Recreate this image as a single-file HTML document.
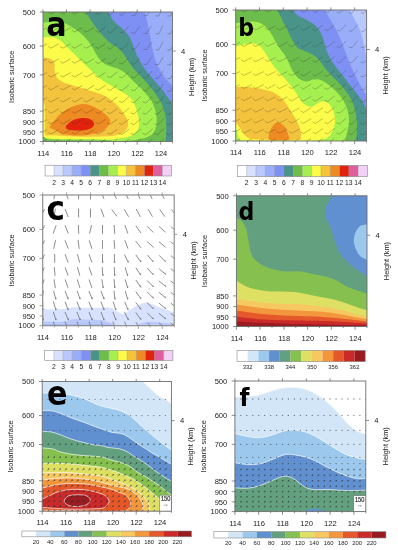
<!DOCTYPE html>
<html><head><meta charset="utf-8"><title>Figure</title>
<style>
html,body{margin:0;padding:0;background:#fff;}
svg{display:block}
.t{font-family:"Liberation Sans",sans-serif;font-size:7.6px;fill:#1c1c1c}
.s{font-family:"Liberation Sans",sans-serif;font-size:7.4px;fill:#1c1c1c}
.c{font-family:"Liberation Sans",sans-serif;font-size:6.7px;fill:#1c1c1c}
.c2{font-family:"Liberation Sans",sans-serif;font-size:5.9px;fill:#1c1c1c}
.lab{font-family:"DejaVu Sans Condensed","DejaVu Sans","Liberation Sans",sans-serif;font-weight:bold;fill:#000}
</style></head><body>
<svg width="398" height="550" viewBox="0 0 398 550">
<rect width="398" height="550" fill="#fff"/>
<defs><filter id="bl" x="-5%" y="-5%" width="110%" height="110%"><feGaussianBlur stdDeviation="0.38"/></filter></defs>
<clipPath id="cpa"><rect x="43.0" y="12.0" width="129.5" height="129.5"/></clipPath>
<g clip-path="url(#cpa)"><g filter="url(#bl)">
<rect x="40.0" y="9.0" width="135.5" height="135.5" fill="#9aadf9"/>
<path d="M144.3,10.0C144.8,11.8 146.1,17.0 147.0,20.8C147.9,24.6 148.7,28.6 149.6,33.0C150.5,37.4 151.2,42.5 152.2,47.2C153.2,51.9 154.3,57.1 155.8,61.2C157.3,65.3 159.3,68.8 161.0,71.8C162.7,74.8 163.8,76.5 166.0,79.0C168.2,81.5 172.7,85.7 174.0,87.0L174.5,143.5L41.0,143.5L41.0,10.0Z" fill="#7e90f4"/>
<path d="M107.5,10.0C108.5,11.8 111.1,17.7 113.6,20.8C116.1,23.9 119.7,26.1 122.3,28.7C124.9,31.3 127.5,33.5 129.4,36.6C131.3,39.7 132.3,43.7 133.8,47.2C135.3,50.7 136.4,54.2 138.2,57.7C139.9,61.2 142.3,65.3 144.3,68.3C146.3,71.3 148.0,73.1 150.0,75.5C152.0,77.9 154.2,80.0 156.3,82.5C158.4,85.0 160.7,87.8 162.8,90.5C164.9,93.2 167.1,96.4 169.0,99.0C170.9,101.6 173.2,104.8 174.0,106.0L174.5,143.5L41.0,143.5L41.0,10.0Z" fill="#4a938a"/>
<path d="M84.5,10.0C85.5,11.6 88.5,16.5 90.5,19.5C92.5,22.5 94.5,25.4 96.2,27.8C98.0,30.2 99.5,32.3 101.0,34.0C102.5,35.7 103.4,36.5 105.0,38.0C106.6,39.5 108.3,41.6 110.6,43.3C112.8,45.0 116.2,46.5 118.5,48.4C120.8,50.3 122.4,52.2 124.2,54.6C126.0,57.0 127.4,60.1 129.4,63.0C131.4,65.9 134.1,69.2 136.4,71.8C138.7,74.4 140.7,76.0 143.0,78.5C145.3,81.0 147.8,83.8 150.0,86.5C152.2,89.2 154.2,91.8 156.0,94.5C157.8,97.2 159.6,99.5 161.0,102.5C162.4,105.5 163.7,108.8 164.6,112.5C165.5,116.2 166.1,119.7 166.3,124.8C166.5,129.9 165.9,140.0 165.8,143.0L41.0,143.5L41.0,10.0Z" fill="#6cbd4b"/>
<path d="M41.0,22.6C43.1,22.5 49.8,21.9 53.6,22.0C57.4,22.1 60.9,22.1 64.0,23.0C67.1,23.9 69.9,25.9 72.4,27.4C74.9,28.9 77.1,30.3 79.2,32.0C81.3,33.7 83.4,35.7 85.0,37.4C86.6,39.1 87.8,40.7 89.0,42.3C90.2,43.9 91.2,45.3 92.2,47.0C93.2,48.7 94.2,50.8 95.2,52.5C96.2,54.2 97.0,55.9 98.2,57.5C99.4,59.1 100.6,60.7 102.2,62.0C103.8,63.3 106.0,64.6 108.0,65.5C110.0,66.4 112.1,66.9 114.0,67.6C115.9,68.2 117.8,68.6 119.5,69.4C121.2,70.2 122.6,71.1 124.2,72.3C125.8,73.5 127.3,75.1 129.0,76.8C130.7,78.5 132.5,80.4 134.5,82.3C136.5,84.2 138.8,86.1 141.0,88.3C143.2,90.5 145.6,93.0 147.5,95.5C149.4,98.0 151.2,100.2 152.6,103.0C154.0,105.8 155.1,109.2 155.8,112.5C156.5,115.8 156.9,119.8 156.6,123.0C156.3,126.2 155.6,129.4 154.0,131.8C152.4,134.2 151.1,135.8 147.0,137.2C142.9,138.6 136.7,139.8 129.4,140.4C122.1,141.0 117.7,140.9 103.0,141.0C88.3,141.1 51.3,141.2 41.0,141.2Z" fill="#a5ef50"/>
<path d="M41.0,37.5C42.5,37.4 47.2,36.8 49.8,36.9C52.4,37.0 54.5,37.5 56.6,38.4C58.7,39.2 60.5,40.6 62.2,42.0C63.9,43.4 65.2,45.5 66.7,47.0C68.2,48.5 70.0,49.7 71.5,51.2C73.0,52.7 74.5,54.2 76.0,55.8C77.5,57.3 78.8,58.9 80.5,60.5C82.2,62.1 83.9,63.5 86.0,65.5C88.1,67.5 90.5,70.0 93.0,72.3C95.5,74.6 98.2,77.2 101.0,79.3C103.8,81.4 106.8,83.1 109.5,84.8C112.2,86.5 114.8,87.8 117.4,89.3C120.0,90.8 123.0,92.5 125.3,94.0C127.6,95.5 129.4,96.7 131.0,98.5C132.6,100.3 133.6,102.1 134.8,105.0C136.0,107.9 137.5,112.7 138.2,116.0C138.9,119.3 139.3,122.2 139.0,124.8C138.7,127.4 138.0,129.9 136.4,131.8C134.8,133.7 132.6,135.2 129.4,136.4C126.2,137.6 121.4,138.1 117.0,138.7C112.6,139.2 115.7,139.5 103.0,139.7C90.3,139.9 51.3,139.8 41.0,139.8Z" fill="#fdfb48"/>
<path d="M41.0,57.6C42.5,57.8 47.6,57.8 49.8,58.6C52.0,59.4 53.5,60.6 54.3,62.5C55.1,64.4 54.2,67.6 54.6,70.0C55.0,72.4 55.5,74.9 56.8,76.9C58.1,78.9 60.0,80.5 62.2,81.8C64.4,83.1 67.3,83.9 70.1,84.8C72.9,85.7 76.2,86.3 79.2,87.2C82.2,88.1 85.4,89.2 88.0,90.0C90.6,90.8 92.3,91.4 95.0,92.3C97.7,93.2 101.2,94.1 104.0,95.4C106.8,96.7 109.2,98.5 111.5,100.3C113.8,102.1 116.0,103.9 118.0,106.0C120.0,108.1 122.0,110.7 123.5,113.0C125.0,115.3 126.5,117.9 127.3,120.0C128.1,122.1 128.4,123.7 128.0,125.5C127.6,127.3 126.7,129.5 125.0,131.0C123.3,132.5 121.3,133.8 118.0,134.7C114.7,135.6 111.3,136.2 105.0,136.6C98.7,136.9 87.5,136.9 80.0,136.8C72.5,136.7 65.0,136.1 60.0,135.8C55.0,135.6 53.2,135.2 50.0,135.3C46.8,135.4 42.5,136.3 41.0,136.5Z" fill="#f4c33c"/>
<path d="M41,100L44.6,104L45,120L44.8,134L47,137L41,137Z" fill="#fdfb48"/>
<path d="M50.0,126.8C50.5,124.8 54.4,120.5 57.0,117.7C59.6,114.9 62.4,112.0 65.9,109.8C69.4,107.6 74.4,105.5 78.2,104.7C82.0,103.9 85.2,103.9 88.7,104.7C92.2,105.5 96.6,108.2 99.3,109.8C102.0,111.3 103.4,112.6 105.0,114.0C106.6,115.4 108.1,116.8 109.0,118.0C109.9,119.2 110.4,120.0 110.3,121.3C110.2,122.5 109.4,124.2 108.5,125.5C107.6,126.8 106.5,127.8 105.0,129.0C103.5,130.2 102.1,131.6 99.3,132.6C96.5,133.6 91.3,134.4 88.0,134.9C84.7,135.4 82.2,135.4 79.2,135.4C76.2,135.4 73.0,135.3 70.0,134.9C67.0,134.5 63.6,134.0 61.0,133.2C58.4,132.3 56.1,130.9 54.3,129.8C52.5,128.7 49.5,128.8 50.0,126.8Z" fill="#ee8a24"/>
<path d="M65.9,126.5C66.5,125.2 68.8,122.6 71.1,121.2C73.4,119.8 77.1,118.6 80.0,118.2C82.9,117.8 86.4,117.8 88.7,118.6C91.0,119.4 93.4,121.5 94.0,123.0C94.6,124.5 93.7,126.2 92.2,127.4C90.7,128.6 88.1,129.5 85.2,130.0C82.3,130.5 77.6,130.5 74.7,130.4C71.8,130.3 69.1,129.8 67.6,129.2C66.1,128.5 65.3,127.8 65.9,126.5Z" fill="#e1220f"/>
<path d="M41,135.5L44,137L47,138.8L60,139.3L100,139.8L112,140.5L112,143L41,143Z" fill="#6cbd4b"/>
<path d="M44.5,137.4L47,139L60,139.5L100,140" fill="none" stroke="#a5ef50" stroke-width="0.7"/>
<path d="M36.8,12.6L39.3,14.1L46.7,9.9M36.8,30.4L39.3,32.0L46.7,27.7M36.8,46.7L39.3,48.2L46.7,43.9M36.8,61.6L39.3,63.2L46.7,58.9M36.8,75.5L39.3,77.0L46.7,72.7M36.8,88.4L39.3,89.9L46.7,85.6M36.8,100.4L39.3,102.0L46.7,97.7M36.8,111.7L39.3,113.3L46.7,109.0M36.8,122.4L39.3,124.0L46.7,119.7M36.8,132.5L39.3,134.1L46.7,129.8M36.8,142.1L39.3,143.7L46.7,139.3M48.6,12.6L51.0,14.1L58.5,9.9M48.6,30.4L51.0,32.0L58.5,27.7M48.6,46.7L51.0,48.2L58.5,43.9M48.6,61.6L51.0,63.2L58.5,58.9M48.6,75.5L51.0,77.0L58.5,72.7M48.6,88.4L51.0,89.9L58.5,85.6M48.6,100.4L51.0,102.0L58.5,97.7M48.6,111.7L51.0,113.3L58.5,109.0M48.6,122.4L51.0,124.0L58.5,119.7M48.6,132.5L51.0,134.1L58.5,129.8M48.6,142.1L51.0,143.7L58.5,139.3M60.4,12.6L62.8,14.1L70.3,9.9M60.4,30.4L62.8,32.0L70.3,27.7M60.4,46.7L62.8,48.2L70.3,43.9M60.4,61.6L62.8,63.2L70.3,58.9M60.4,75.5L62.8,77.0L70.3,72.7M60.4,88.4L62.8,89.9L70.3,85.6M60.4,100.4L62.8,102.0L70.3,97.7M60.4,111.7L62.8,113.3L70.3,109.0M60.4,122.4L62.8,124.0L70.3,119.7M60.4,132.5L62.8,134.1L70.3,129.8M60.4,142.1L62.8,143.7L70.3,139.3M72.1,12.6L74.6,14.1L82.0,9.9M72.1,30.4L74.6,32.0L82.0,27.7M72.1,46.7L74.6,48.2L82.0,43.9M72.1,61.6L74.6,63.2L82.0,58.9M72.1,75.5L74.6,77.0L82.0,72.7M72.1,88.4L74.6,89.9L82.0,85.6M72.1,100.4L74.6,102.0L82.0,97.7M72.1,111.7L74.6,113.3L82.0,109.0M72.1,122.4L74.6,124.0L82.0,119.7M72.1,132.5L74.6,134.1L82.0,129.8M72.1,142.1L74.6,143.7L82.0,139.3M83.9,12.6L86.4,14.1L93.8,9.9M83.9,30.4L86.4,32.0L93.8,27.7M83.9,46.7L86.4,48.2L93.8,43.9M83.9,61.6L86.4,63.2L93.8,58.9M83.9,75.5L86.4,77.0L93.8,72.7M83.9,88.4L86.4,89.9L93.8,85.6M83.9,100.4L86.4,102.0L93.8,97.7M83.9,111.7L86.4,113.3L93.8,109.0M83.9,122.4L86.4,124.0L93.8,119.7M83.9,132.5L86.4,134.1L93.8,129.8M83.9,142.1L86.4,143.7L93.8,139.3M95.8,13.3L98.4,14.5L105.3,9.5M95.8,31.0L98.4,32.3L105.4,27.3M95.8,47.2L98.4,48.5L105.4,43.6M95.8,62.1L98.3,63.5L105.4,58.6M95.7,75.9L98.3,77.3L105.4,72.4M95.7,88.8L98.3,90.1L105.4,85.4M95.7,100.8L98.3,102.2L105.5,97.4M95.7,112.1L98.3,113.5L105.5,108.8M95.7,122.7L98.2,124.1L105.5,119.5M95.7,132.7L98.2,134.2L105.5,129.6M95.7,142.3L98.2,143.7L105.5,139.3M107.7,13.9L110.5,14.9L116.8,9.1M107.7,31.6L110.4,32.7L116.9,27.0M107.7,47.8L110.4,48.9L116.9,43.3M107.6,62.7L110.3,63.8L117.0,58.3M107.6,76.4L110.3,77.5L117.0,72.2M107.6,89.2L110.2,90.4L117.0,85.1M107.6,101.1L110.2,102.4L117.1,97.2M107.5,112.4L110.1,113.7L117.1,108.6M107.5,123.0L110.1,124.3L117.2,119.4M107.5,133.0L110.1,134.3L117.2,129.5M107.5,142.4L110.0,143.8L117.2,139.2M119.7,14.6L122.6,15.2L128.3,8.8M119.7,32.2L122.5,33.0L128.3,26.7M119.6,48.3L122.4,49.1L128.4,43.0M119.6,63.1L122.3,64.0L128.5,58.0M119.5,76.8L122.3,77.8L128.6,71.9M119.5,89.6L122.2,90.6L128.6,84.9M119.4,101.5L122.1,102.6L128.7,97.0M119.4,112.7L122.1,113.8L128.8,108.4M119.4,123.2L122.0,124.4L128.8,119.2M119.3,133.2L121.9,134.4L128.9,129.4M119.3,142.6L121.9,143.9L129.0,139.1M131.8,15.2L134.7,15.5L139.7,8.5M131.7,32.8L134.6,33.2L139.8,26.4M131.6,48.9L134.5,49.4L139.9,42.7M131.5,63.6L134.4,64.3L140.0,57.8M131.5,77.3L134.3,78.0L140.1,71.7M131.4,90.0L134.2,90.8L140.2,84.7M131.3,101.9L134.1,102.8L140.3,96.8M131.2,113.0L134.0,114.0L140.4,108.3M131.2,123.5L133.9,124.6L140.5,119.1M131.1,133.4L133.8,134.6L140.6,129.3M131.1,142.8L133.7,144.0L140.7,139.0M144.0,15.7L146.9,15.8L151.0,8.2M143.8,33.3L146.7,33.5L151.2,26.1M143.7,49.4L146.6,49.6L151.3,42.5M143.6,64.1L146.4,64.5L151.5,57.5M143.4,77.7L146.3,78.2L151.6,71.5M143.3,90.4L146.1,91.0L151.8,84.5M143.2,102.2L146.0,103.0L151.9,96.7M143.1,113.3L145.9,114.2L152.0,108.1M143.0,123.7L145.8,124.7L152.1,118.9M143.0,133.6L145.7,134.7L152.3,129.2M142.9,142.9L145.5,144.1L152.4,138.9M155.9,16.0L158.8,15.9L162.6,8.1M155.9,33.8L158.8,33.7L162.6,25.9M155.8,49.8L158.7,49.8L162.8,42.3M155.6,64.5L158.5,64.7L163.0,57.3M155.4,78.1L158.3,78.4L163.1,71.3M155.3,90.7L158.1,91.2L163.3,84.3M155.1,102.5L158.0,103.1L163.5,96.5M155.0,113.6L157.8,114.3L163.6,108.0M154.9,124.0L157.7,124.8L163.8,118.8M154.8,133.8L157.5,134.8L163.9,129.0M154.7,143.1L157.4,144.2L164.1,138.8M167.7,16.0L170.6,15.9L174.4,8.1M167.7,33.8L170.6,33.7L174.4,25.9M167.7,50.0L170.6,49.9L174.4,42.2M167.7,64.9L170.6,64.9L174.4,57.2M167.5,78.5L170.4,78.6L174.6,71.1M167.3,91.1L170.2,91.4L174.8,84.1M167.1,102.9L170.0,103.3L175.0,96.3M166.9,113.9L169.8,114.4L175.2,107.8M166.8,124.2L169.6,125.0L175.4,118.7M166.6,134.0L169.4,134.9L175.6,128.9M166.5,143.2L169.2,144.3L175.8,138.7" stroke="#3a3a20" stroke-width="0.9" fill="none" opacity="0.36" stroke-linejoin="round" stroke-linecap="round"/>
</g></g>
<rect x="43.0" y="12.0" width="129.5" height="129.5" fill="none" stroke="#6e6e6e" stroke-width="0.9"/>
<text x="35.4" y="14.8" text-anchor="end" class="t">500</text>
<text x="35.4" y="48.8" text-anchor="end" class="t">600</text>
<text x="35.4" y="77.6" text-anchor="end" class="t">700</text>
<text x="35.4" y="113.9" text-anchor="end" class="t">850</text>
<text x="35.4" y="124.6" text-anchor="end" class="t">900</text>
<text x="35.4" y="134.7" text-anchor="end" class="t">950</text>
<text x="35.4" y="144.2" text-anchor="end" class="t">1000</text>
<text x="43.3" y="155.7" text-anchor="middle" class="t">114</text>
<text x="66.8" y="155.7" text-anchor="middle" class="t">116</text>
<text x="90.4" y="155.7" text-anchor="middle" class="t">118</text>
<text x="113.9" y="155.7" text-anchor="middle" class="t">120</text>
<text x="137.5" y="155.7" text-anchor="middle" class="t">122</text>
<text x="161.0" y="155.7" text-anchor="middle" class="t">124</text>
<path d="M43.0,12.0h-3.2M43.0,46.1h-3.2M43.0,74.9h-3.2M43.0,111.1h-3.2M43.0,121.8h-3.2M43.0,131.9h-3.2M43.0,141.5h-3.2M43.0,141.5v3.2M43.0,12.0v-2.6M66.5,141.5v3.2M66.5,12.0v-2.6M90.1,141.5v3.2M90.1,12.0v-2.6M113.6,141.5v3.2M113.6,12.0v-2.6M137.2,141.5v3.2M137.2,12.0v-2.6M160.7,141.5v3.2M160.7,12.0v-2.6M54.8,141.5v1.6M78.3,141.5v1.6M101.9,141.5v1.6M125.4,141.5v1.6M149.0,141.5v1.6M172.5,141.5v1.6M172.5,51.0h3.2" stroke="#6e6e6e" stroke-width="0.8" fill="none"/>
<text x="183.1" y="53.8" text-anchor="middle" class="t">4</text>
<text transform="translate(13.8,76.8) rotate(-90)" text-anchor="middle" class="s">Isobaric surface</text>
<text transform="translate(194.3,76.8) rotate(-90)" text-anchor="middle" class="s">Height (km)</text>
<text x="46.3" y="35.8" class="lab" font-size="33.5">a</text>
<rect x="45.10" y="165.2" width="9.08" height="10.8" fill="#ffffff"/>
<rect x="54.13" y="165.2" width="9.08" height="10.8" fill="#d8e2ff"/>
<rect x="63.16" y="165.2" width="9.08" height="10.8" fill="#b9c9fb"/>
<rect x="72.19" y="165.2" width="9.08" height="10.8" fill="#9aadf9"/>
<rect x="81.21" y="165.2" width="9.08" height="10.8" fill="#7e90f4"/>
<rect x="90.24" y="165.2" width="9.08" height="10.8" fill="#4a938a"/>
<rect x="99.27" y="165.2" width="9.08" height="10.8" fill="#6cbd4b"/>
<rect x="108.30" y="165.2" width="9.08" height="10.8" fill="#a5ef50"/>
<rect x="117.33" y="165.2" width="9.08" height="10.8" fill="#fdfb48"/>
<rect x="126.36" y="165.2" width="9.08" height="10.8" fill="#f4c33c"/>
<rect x="135.39" y="165.2" width="9.08" height="10.8" fill="#ee8a24"/>
<rect x="144.41" y="165.2" width="9.08" height="10.8" fill="#e1220f"/>
<rect x="153.44" y="165.2" width="9.08" height="10.8" fill="#de5f9b"/>
<rect x="162.47" y="165.2" width="9.08" height="10.8" fill="#f1d1f6"/>
<path d="M54.13,165.2V176.0M63.16,165.2V176.0M72.19,165.2V176.0M81.21,165.2V176.0M90.24,165.2V176.0M99.27,165.2V176.0M108.30,165.2V176.0M117.33,165.2V176.0M126.36,165.2V176.0M135.39,165.2V176.0M144.41,165.2V176.0M153.44,165.2V176.0M162.47,165.2V176.0" stroke="#8a8a8a" stroke-width="0.5" fill="none" opacity="0.7"/>
<rect x="45.1" y="165.2" width="126.4" height="10.8" fill="none" stroke="#8a8a8a" stroke-width="0.6"/>
<text x="54.1" y="185.3" text-anchor="middle" class="c">2</text>
<text x="63.2" y="185.3" text-anchor="middle" class="c">3</text>
<text x="72.2" y="185.3" text-anchor="middle" class="c">4</text>
<text x="81.2" y="185.3" text-anchor="middle" class="c">5</text>
<text x="90.2" y="185.3" text-anchor="middle" class="c">6</text>
<text x="99.3" y="185.3" text-anchor="middle" class="c">7</text>
<text x="108.3" y="185.3" text-anchor="middle" class="c">8</text>
<text x="117.3" y="185.3" text-anchor="middle" class="c">9</text>
<text x="126.4" y="185.3" text-anchor="middle" class="c">10</text>
<text x="135.4" y="185.3" text-anchor="middle" class="c">11</text>
<text x="144.4" y="185.3" text-anchor="middle" class="c">12</text>
<text x="153.4" y="185.3" text-anchor="middle" class="c">13</text>
<text x="162.5" y="185.3" text-anchor="middle" class="c">14</text>
<clipPath id="cpb"><rect x="235.7" y="10.0" width="130.9" height="131.0"/></clipPath>
<g clip-path="url(#cpb)"><g filter="url(#bl)">
<rect x="232.7" y="7.0" width="136.9" height="137.0" fill="#b9c9fb"/>
<path d="M348.5,8.0C349.5,9.8 352.6,15.7 354.4,19.0C356.1,22.3 357.7,24.8 359.0,28.0C360.3,31.2 361.4,34.9 362.3,38.3C363.2,41.7 364.0,45.4 364.6,48.4C365.2,51.4 365.4,53.1 366.0,56.0C366.6,58.9 367.7,64.3 368.0,66.0L368.6,143.0L233.7,143.0L233.7,8.0Z" fill="#9aadf9"/>
<path d="M323.0,8.0C324.5,10.3 329.4,17.9 331.8,22.0C334.2,26.1 335.7,29.1 337.4,32.6C339.1,36.1 340.6,39.4 342.0,42.8C343.4,46.2 344.6,49.9 345.8,53.0C347.0,56.1 347.8,58.6 349.0,61.5C350.2,64.4 351.4,67.2 352.8,70.2C354.2,73.2 355.7,76.3 357.2,79.3C358.7,82.3 360.3,85.5 361.8,88.0C363.3,90.5 365.0,93.0 366.0,94.5C367.0,96.0 367.7,96.6 368.0,97.0L368.6,143.0L233.7,143.0L233.7,8.0Z" fill="#7e90f4"/>
<path d="M292.0,8.0C292.9,9.2 295.3,13.4 297.6,15.3C299.9,17.2 302.9,17.7 306.0,19.5C309.1,21.3 313.3,23.3 316.0,26.0C318.7,28.7 320.4,31.9 322.0,35.5C323.6,39.1 324.3,43.8 325.6,47.5C326.9,51.2 327.9,54.3 329.6,57.5C331.3,60.7 333.6,63.7 335.8,66.7C338.0,69.7 340.6,72.7 343.0,75.7C345.4,78.8 347.8,82.2 350.0,85.0C352.2,87.8 354.1,89.9 356.0,92.4C357.9,94.9 359.9,97.3 361.5,99.8C363.1,102.3 364.6,105.5 365.7,107.5C366.8,109.5 367.6,111.2 368.0,112.0L368.6,143.0L233.7,143.0L233.7,8.0Z" fill="#4a938a"/>
<path d="M276.5,8.0C277.4,9.8 279.9,15.2 281.7,18.8C283.4,22.4 285.2,25.8 287.0,29.3C288.8,32.8 290.5,36.8 292.3,39.9C294.1,43.0 295.3,45.8 297.6,47.7C299.9,49.6 303.0,50.0 306.0,51.5C309.0,53.0 312.8,54.2 315.6,56.5C318.4,58.8 320.9,62.6 323.0,65.3C325.1,68.0 326.4,70.1 328.5,72.5C330.6,74.9 333.0,76.9 335.5,79.5C338.0,82.1 341.1,85.1 343.7,88.3C346.2,91.5 348.9,95.1 350.8,98.8C352.7,102.5 354.2,106.4 355.2,110.7C356.2,115.0 356.9,119.4 357.0,124.8C357.1,130.2 356.2,140.0 356.0,143.0L233.7,143.0L233.7,8.0Z" fill="#6cbd4b"/>
<path d="M234.0,23.4C235.8,23.2 241.5,22.6 244.8,22.3C248.1,22.0 250.7,21.3 253.6,21.6C256.5,21.9 259.8,22.6 262.4,24.2C265.0,25.8 267.3,28.4 269.4,31.0C271.4,33.6 272.9,36.9 274.7,39.9C276.5,42.9 278.3,46.1 280.0,48.7C281.7,51.3 283.5,53.1 285.0,55.5C286.5,57.9 287.5,60.2 288.8,62.8C290.1,65.4 290.9,68.4 292.6,71.0C294.3,73.6 296.5,76.8 298.8,78.6C301.1,80.4 304.1,81.4 306.4,81.6C308.7,81.8 310.6,80.0 312.7,79.6C314.8,79.2 316.9,78.9 319.0,79.4C321.1,79.9 322.8,81.0 325.2,82.6C327.6,84.2 330.4,86.2 333.2,88.8C336.0,91.4 339.7,95.0 342.0,98.4C344.3,101.8 346.0,105.2 347.2,109.0C348.4,112.8 349.0,117.4 349.0,121.2C349.0,125.0 347.9,128.2 347.2,131.8C346.5,135.4 345.0,141.1 344.6,143.0L233.7,143.0Z" fill="#a5ef50"/>
<path d="M234.0,47.3C235.8,46.8 241.5,44.9 244.8,44.3C248.1,43.7 251.0,43.1 253.6,43.6C256.2,44.1 258.6,45.3 260.6,47.0C262.7,48.7 264.1,51.4 265.9,54.0C267.7,56.6 269.1,59.9 271.2,62.8C273.2,65.7 275.7,68.7 278.2,71.6C280.7,74.5 283.5,77.2 286.0,80.0C288.5,82.8 291.0,85.8 293.0,88.5C295.0,91.2 296.6,93.8 298.0,96.0C299.4,98.2 300.2,99.9 301.6,101.5C303.0,103.1 304.7,104.7 306.5,105.6C308.3,106.5 310.6,107.1 312.3,106.8C314.0,106.5 315.0,104.9 316.5,104.0C318.0,103.1 319.6,101.8 321.5,101.6C323.4,101.4 325.9,101.3 327.9,102.8C329.8,104.3 332.0,107.6 333.2,110.7C334.4,113.8 335.1,117.7 335.0,121.2C334.9,124.7 333.8,128.9 332.3,131.8C330.8,134.7 328.9,137.2 326.1,138.6C323.3,140.0 320.0,140.0 315.6,140.4C311.2,140.8 313.6,140.7 300.0,140.8C286.4,140.9 245.0,140.9 234.0,140.9Z" fill="#fdfb48"/>
<path d="M234.0,87.0C235.8,87.0 241.5,86.9 244.8,87.0C248.1,87.1 250.4,87.4 253.6,87.8C256.8,88.2 260.5,88.7 264.0,89.6C267.5,90.5 271.4,91.3 274.7,93.0C277.9,94.7 280.9,97.0 283.5,100.0C286.1,103.0 288.3,107.2 290.5,110.7C292.7,114.2 295.2,117.8 296.8,121.0C298.4,124.2 299.7,127.3 300.4,130.0C301.1,132.7 301.5,135.4 300.8,137.0C300.1,138.6 303.3,139.4 296.0,139.8C288.7,140.2 265.2,140.0 257.0,139.5C248.8,139.0 249.1,138.4 246.5,136.8C243.9,135.2 242.8,132.1 241.3,130.0C239.8,128.0 238.7,125.8 237.5,124.5C236.3,123.2 234.6,122.8 234.0,122.5Z" fill="#f4c33c"/>
<path d="M268.7,135.5C269.0,133.5 270.1,130.2 271.5,128.0C272.9,125.8 275.2,122.5 277.3,122.3C279.4,122.0 282.6,124.6 284.4,126.5C286.2,128.4 287.2,131.4 287.9,133.6C288.6,135.8 290.1,138.7 288.6,139.8C287.1,140.9 282.1,140.3 279.0,140.3C275.9,140.3 271.5,140.8 269.8,140.0C268.1,139.2 268.4,137.5 268.7,135.5Z" fill="#ee8a24"/>
<path d="M234,129L237.3,131L238.2,137L241,140.4L260,140.9L260,143L234,143Z" fill="#a5ef50"/>
<path d="M229.5,10.3L231.9,12.0L239.5,8.0M229.5,28.3L231.9,29.9L239.5,26.1M229.5,44.7L231.8,46.4L239.6,42.5M229.5,59.8L231.8,61.5L239.6,57.7M229.5,73.7L231.8,75.5L239.6,71.7M229.5,86.8L231.8,88.5L239.6,84.8M229.5,98.9L231.8,100.7L239.6,97.0M229.5,110.3L231.8,112.1L239.6,108.5M229.5,121.1L231.8,122.9L239.6,119.3M229.5,131.3L231.8,133.1L239.6,129.5M229.5,141.0L231.8,142.7L239.6,139.3M241.4,10.3L243.8,12.0L251.4,8.0M241.4,28.3L243.8,29.9L251.4,26.1M241.4,44.7L243.7,46.4L251.5,42.5M241.4,59.8L243.7,61.5L251.5,57.7M241.4,73.7L243.7,75.5L251.5,71.7M241.4,86.8L243.7,88.5L251.5,84.8M241.4,98.9L243.7,100.7L251.5,97.0M241.4,110.3L243.7,112.1L251.5,108.5M241.4,121.1L243.7,122.9L251.5,119.3M241.4,131.3L243.7,133.1L251.5,129.5M241.4,141.0L243.7,142.7L251.5,139.3M253.3,10.3L255.7,12.0L263.3,8.0M253.3,28.3L255.7,29.9L263.3,26.1M253.3,44.7L255.6,46.4L263.4,42.5M253.3,59.8L255.6,61.5L263.4,57.7M253.3,73.7L255.6,75.5L263.4,71.7M253.3,86.8L255.6,88.5L263.4,84.8M253.3,98.9L255.6,100.7L263.4,97.0M253.3,110.3L255.6,112.1L263.4,108.5M253.3,121.1L255.6,122.9L263.4,119.3M253.3,131.3L255.6,133.1L263.4,129.5M253.3,141.0L255.6,142.7L263.4,139.3M265.2,10.3L267.6,12.0L275.2,8.0M265.2,28.3L267.6,29.9L275.2,26.1M265.2,44.7L267.5,46.4L275.3,42.5M265.2,59.8L267.5,61.5L275.3,57.7M265.2,73.7L267.5,75.5L275.3,71.7M265.2,86.8L267.5,88.5L275.3,84.8M265.2,98.9L267.5,100.7L275.3,97.0M265.2,110.3L267.5,112.1L275.3,108.5M265.2,121.1L267.5,122.9L275.3,119.3M265.2,131.3L267.5,133.1L275.3,129.5M265.2,141.0L267.5,142.7L275.3,139.3M277.1,10.5L279.5,12.1L287.1,7.9M277.1,28.5L279.5,30.1L287.1,25.9M277.1,44.9L279.5,46.5L287.1,42.4M277.1,60.0L279.5,61.6L287.1,57.6M277.1,74.0L279.5,75.6L287.1,71.6M277.1,87.0L279.5,88.6L287.1,84.6M277.1,99.1L279.5,100.8L287.1,96.9M277.1,110.6L279.5,112.2L287.1,108.3M277.1,121.3L279.5,123.0L287.1,119.2M277.1,131.5L279.4,133.2L287.2,129.4M277.1,141.2L279.4,142.9L287.2,139.1M289.0,10.7L291.5,12.2L298.9,7.8M289.0,28.7L291.5,30.2L298.9,25.8M289.0,45.1L291.5,46.6L298.9,42.3M289.0,60.2L291.5,61.7L298.9,57.4M289.0,74.2L291.5,75.7L298.9,71.5M289.0,87.2L291.5,88.7L298.9,84.5M289.0,99.4L291.4,100.9L299.0,96.7M289.0,110.8L291.4,112.4L299.0,108.2M289.0,121.5L291.4,123.1L299.0,119.0M289.0,131.7L291.4,133.3L299.0,129.3M289.0,141.4L291.4,143.0L299.0,139.0M301.0,11.0L303.5,12.4L310.7,7.6M301.0,29.0L303.5,30.4L310.7,25.7M301.0,45.4L303.5,46.8L310.7,42.1M301.0,60.5L303.5,61.9L310.7,57.3M300.9,74.5L303.5,75.9L310.7,71.3M300.9,87.5L303.5,88.9L310.7,84.4M300.9,99.6L303.4,101.1L310.8,96.6M300.9,111.0L303.4,112.5L310.8,108.0M300.9,121.8L303.4,123.3L310.8,118.9M300.9,132.0L303.4,133.5L310.8,129.1M300.9,141.7L303.4,143.2L310.8,138.8M312.9,11.3L315.5,12.5L322.5,7.5M312.9,29.2L315.5,30.5L322.5,25.5M312.9,45.6L315.5,46.9L322.5,42.0M312.9,60.7L315.5,62.1L322.5,57.1M312.9,74.7L315.5,76.0L322.5,71.1M312.9,87.7L315.5,89.1L322.5,84.2M312.9,99.9L315.4,101.2L322.6,96.4M312.9,111.3L315.4,112.7L322.6,107.9M312.9,122.1L315.4,123.5L322.6,118.7M312.9,132.3L315.4,133.7L322.6,128.9M312.9,141.9L315.4,143.3L322.6,138.7M324.9,11.7L327.6,12.8L334.2,7.2M324.9,29.7L327.6,30.8L334.2,25.3M324.9,46.1L327.6,47.2L334.2,41.7M324.9,61.2L327.6,62.3L334.2,56.9M324.9,75.1L327.5,76.3L334.3,70.9M324.9,88.2L327.5,89.3L334.3,84.0M324.9,100.3L327.5,101.5L334.3,96.2M324.9,111.7L327.5,112.9L334.3,107.6M324.9,122.5L327.5,123.7L334.3,118.5M324.8,132.7L327.5,133.9L334.3,128.7M324.8,142.4L327.5,143.6L334.3,138.4M337.0,12.2L339.8,13.0L345.8,7.0M337.0,30.2L339.7,31.0L345.9,25.0M337.0,46.6L339.7,47.5L345.9,41.4M337.0,61.7L339.7,62.6L345.9,56.6M336.9,75.7L339.7,76.6L345.9,70.6M336.9,88.7L339.7,89.6L345.9,83.7M336.9,100.8L339.7,101.8L345.9,95.9M336.9,112.3L339.7,113.2L345.9,107.4M336.9,123.0L339.6,124.0L346.0,118.2M336.9,133.2L339.6,134.2L346.0,128.4M336.9,142.9L339.6,143.9L346.0,138.1M349.1,12.7L351.9,13.3L357.5,6.7M349.1,30.7L351.9,31.3L357.5,24.7M349.1,47.1L351.9,47.7L357.5,41.2M349.1,62.2L351.9,62.8L357.5,56.3M349.0,76.2L351.9,76.8L357.5,70.4M349.0,89.2L351.9,89.9L357.5,83.4M349.0,101.3L351.8,102.0L357.6,95.6M349.0,112.8L351.8,113.5L357.6,107.1M349.0,123.5L351.8,124.3L357.6,117.9M349.0,133.7L351.8,134.5L357.6,128.1M349.0,143.4L351.8,144.1L357.6,137.9M361.1,12.9L364.0,13.4L369.2,6.6M361.1,30.9L363.9,31.4L369.3,24.6M361.1,47.3L363.9,47.8L369.3,41.1M361.1,62.4L363.9,62.9L369.3,56.2M361.0,76.4L363.9,76.9L369.3,70.3M361.0,89.4L363.9,89.9L369.3,83.3M361.0,101.5L363.8,102.1L369.4,95.5M361.0,113.0L363.8,113.6L369.4,107.0M361.0,123.7L363.8,124.4L369.4,117.8M361.0,133.9L363.8,134.6L369.4,128.0M361.0,143.6L363.8,144.2L369.4,137.8" stroke="#3a3a20" stroke-width="0.9" fill="none" opacity="0.33" stroke-linejoin="round" stroke-linecap="round"/>
</g></g>
<rect x="235.7" y="10.0" width="130.9" height="131.0" fill="none" stroke="#6e6e6e" stroke-width="0.9"/>
<text x="228.1" y="12.8" text-anchor="end" class="t">500</text>
<text x="228.1" y="47.2" text-anchor="end" class="t">600</text>
<text x="228.1" y="76.3" text-anchor="end" class="t">700</text>
<text x="228.1" y="113.0" text-anchor="end" class="t">850</text>
<text x="228.1" y="123.8" text-anchor="end" class="t">900</text>
<text x="228.1" y="134.1" text-anchor="end" class="t">950</text>
<text x="228.1" y="143.8" text-anchor="end" class="t">1000</text>
<text x="236.0" y="155.2" text-anchor="middle" class="t">114</text>
<text x="259.8" y="155.2" text-anchor="middle" class="t">116</text>
<text x="283.6" y="155.2" text-anchor="middle" class="t">118</text>
<text x="307.4" y="155.2" text-anchor="middle" class="t">120</text>
<text x="331.2" y="155.2" text-anchor="middle" class="t">122</text>
<text x="355.0" y="155.2" text-anchor="middle" class="t">124</text>
<path d="M235.7,10.0h-3.2M235.7,44.5h-3.2M235.7,73.6h-3.2M235.7,110.3h-3.2M235.7,121.1h-3.2M235.7,131.3h-3.2M235.7,141.0h-3.2M235.7,141.0v3.2M235.7,10.0v-2.6M259.5,141.0v3.2M259.5,10.0v-2.6M283.3,141.0v3.2M283.3,10.0v-2.6M307.1,141.0v3.2M307.1,10.0v-2.6M330.9,141.0v3.2M330.9,10.0v-2.6M354.7,141.0v3.2M354.7,10.0v-2.6M247.6,141.0v1.6M271.4,141.0v1.6M295.2,141.0v1.6M319.0,141.0v1.6M342.8,141.0v1.6M366.6,141.0v1.6M366.6,49.5h3.2" stroke="#6e6e6e" stroke-width="0.8" fill="none"/>
<text x="377.2" y="52.3" text-anchor="middle" class="t">4</text>
<text transform="translate(206.5,75.5) rotate(-90)" text-anchor="middle" class="s">Isobaric surface</text>
<text transform="translate(388.4,75.5) rotate(-90)" text-anchor="middle" class="s">Height (km)</text>
<text x="238.3" y="35.6" class="lab" font-size="24.5">b</text>
<rect x="237.40" y="165.4" width="9.34" height="11.3" fill="#ffffff"/>
<rect x="246.69" y="165.4" width="9.34" height="11.3" fill="#d8e2ff"/>
<rect x="255.97" y="165.4" width="9.34" height="11.3" fill="#b9c9fb"/>
<rect x="265.26" y="165.4" width="9.34" height="11.3" fill="#9aadf9"/>
<rect x="274.54" y="165.4" width="9.34" height="11.3" fill="#7e90f4"/>
<rect x="283.83" y="165.4" width="9.34" height="11.3" fill="#4a938a"/>
<rect x="293.11" y="165.4" width="9.34" height="11.3" fill="#6cbd4b"/>
<rect x="302.40" y="165.4" width="9.34" height="11.3" fill="#a5ef50"/>
<rect x="311.69" y="165.4" width="9.34" height="11.3" fill="#fdfb48"/>
<rect x="320.97" y="165.4" width="9.34" height="11.3" fill="#f4c33c"/>
<rect x="330.26" y="165.4" width="9.34" height="11.3" fill="#ee8a24"/>
<rect x="339.54" y="165.4" width="9.34" height="11.3" fill="#e1220f"/>
<rect x="348.83" y="165.4" width="9.34" height="11.3" fill="#de5f9b"/>
<rect x="358.11" y="165.4" width="9.34" height="11.3" fill="#f1d1f6"/>
<path d="M246.69,165.4V176.7M255.97,165.4V176.7M265.26,165.4V176.7M274.54,165.4V176.7M283.83,165.4V176.7M293.11,165.4V176.7M302.40,165.4V176.7M311.69,165.4V176.7M320.97,165.4V176.7M330.26,165.4V176.7M339.54,165.4V176.7M348.83,165.4V176.7M358.11,165.4V176.7" stroke="#8a8a8a" stroke-width="0.5" fill="none" opacity="0.7"/>
<rect x="237.4" y="165.4" width="130.0" height="11.3" fill="none" stroke="#8a8a8a" stroke-width="0.6"/>
<text x="246.7" y="185.3" text-anchor="middle" class="c">2</text>
<text x="256.0" y="185.3" text-anchor="middle" class="c">3</text>
<text x="265.3" y="185.3" text-anchor="middle" class="c">4</text>
<text x="274.5" y="185.3" text-anchor="middle" class="c">5</text>
<text x="283.8" y="185.3" text-anchor="middle" class="c">6</text>
<text x="293.1" y="185.3" text-anchor="middle" class="c">7</text>
<text x="302.4" y="185.3" text-anchor="middle" class="c">8</text>
<text x="311.7" y="185.3" text-anchor="middle" class="c">9</text>
<text x="321.0" y="185.3" text-anchor="middle" class="c">10</text>
<text x="330.3" y="185.3" text-anchor="middle" class="c">11</text>
<text x="339.5" y="185.3" text-anchor="middle" class="c">12</text>
<text x="348.8" y="185.3" text-anchor="middle" class="c">13</text>
<text x="358.1" y="185.3" text-anchor="middle" class="c">14</text>
<clipPath id="cpc"><rect x="42.7" y="195.0" width="131.5" height="130.7"/></clipPath>
<g clip-path="url(#cpc)"><g filter="url(#bl)">
<rect x="39.7" y="192.0" width="137.5" height="136.7" fill="#ffffff"/>
<path d="M41.0,308.2C42.5,308.4 46.7,309.3 50.3,309.4C53.9,309.5 58.6,309.4 62.8,309.0C67.0,308.6 71.6,307.4 75.4,307.2C79.2,307.0 81.3,307.6 85.4,307.7C89.5,307.8 95.9,307.7 100.0,307.7C104.1,307.7 107.5,307.3 110.0,307.7C112.5,308.1 112.9,309.1 115.0,310.2C117.1,311.2 120.5,313.8 122.6,314.0C124.7,314.2 125.5,312.8 127.6,311.5C129.7,310.2 132.3,307.9 135.2,306.4C138.1,304.9 142.5,303.1 145.2,302.7C147.9,302.3 149.0,303.2 151.5,304.0C154.0,304.8 157.6,306.7 160.3,307.7C163.0,308.7 165.2,309.3 167.8,310.2C170.4,311.1 174.6,312.5 176.0,313.0L176.2,327.7L40.7,327.7Z" fill="#d8e2ff"/>
<path d="M41.0,321.5C44.6,321.5 57.5,321.9 62.8,321.5C68.1,321.1 69.1,319.5 72.9,319.2C76.7,318.9 80.9,319.5 85.4,319.6C89.9,319.7 96.3,319.6 100.0,320.0C103.7,320.4 105.4,321.1 107.5,321.8C109.6,322.5 110.5,323.1 112.6,324.0C114.7,324.9 118.8,326.5 120.0,327.0L40.7,327.7Z" fill="#b9c9fb"/>
<path d="M130.0,327.0C131.3,326.5 134.3,325.1 137.7,324.2C141.1,323.3 146.1,322.0 150.3,321.8C154.5,321.6 158.5,322.4 162.8,322.8C167.1,323.2 173.8,323.8 176.0,324.0L176.2,327.7Z" fill="#b9c9fb"/>
<rect x="41" y="324.6" width="72" height="3" fill="#9aadf9"/>
<circle cx="149" cy="288.8" r="1" fill="#d8e2ff"/>
<path d="M44.6,191.0L40.8,199.0M55.4,190.7L53.9,199.3M65.0,190.9L68.3,199.1M78.6,190.6L78.6,199.4M90.5,190.6L90.5,199.4M101.0,190.9L104.0,199.1M112.2,191.2L116.6,198.8M124.5,191.0L128.3,199.0M136.5,191.0L140.2,199.0M148.4,191.0L152.2,199.0M160.2,191.1L164.3,198.9M172.0,191.2L176.4,198.8M44.6,209.0L40.8,217.0M55.4,208.6L53.9,217.3M65.0,208.9L68.3,217.1M78.6,208.6L78.6,217.4M90.5,208.6L90.5,217.4M101.0,208.8L104.0,217.1M111.7,209.5L117.1,216.4M124.2,209.2L128.6,216.8M136.3,209.1L140.4,216.9M148.1,209.2L152.5,216.8M159.7,209.4L164.8,216.6M171.5,209.5L176.9,216.4M44.6,225.4L40.8,233.4M56.2,225.2L53.1,233.5M65.0,225.3L68.3,233.5M78.4,225.0L78.7,233.8M91.6,225.1L89.5,233.6M102.5,225.0L102.5,233.8M114.2,225.0L114.7,233.8M124.9,225.2L127.9,233.5M135.8,225.8L140.9,233.0M147.2,226.3L153.4,232.5M159.0,226.4L165.5,232.3M170.8,226.6L177.6,232.2M44.6,240.5L40.8,248.5M55.6,240.2L53.7,248.8M65.0,240.4L68.3,248.6M78.0,240.1L79.2,248.8M89.2,240.3L91.9,248.7M102.5,240.1L102.5,248.9M114.0,240.1L114.8,248.9M124.9,240.3L127.9,248.6M135.6,241.0L141.0,247.9M147.0,241.5L153.6,247.4M158.9,241.6L165.6,247.3M170.7,241.8L177.7,247.2M44.6,254.5L40.8,262.4M54.7,254.0L54.7,262.8M65.1,254.3L68.1,262.6M77.4,254.2L79.7,262.7M89.0,254.3L92.0,262.6M102.5,254.0L102.5,262.8l0.7,-1.5M114.4,254.0L114.4,262.8l0.7,-1.5M124.5,254.5L128.2,262.4l0.0,-1.7M135.8,254.8L140.9,262.0l-0.3,-1.7M147.5,255.1L153.1,261.8l-0.4,-1.6M159.1,255.3L165.4,261.6l-0.6,-1.6M170.9,255.5L177.5,261.4l-0.7,-1.6M44.3,267.4L41.1,275.5M54.3,267.1L55.0,275.8M65.1,267.3L68.1,275.6M77.4,267.2L79.8,275.7M89.0,267.3L92.0,275.6M102.2,267.1L102.8,275.8l0.6,-1.6M114.3,267.1L114.6,275.9l0.7,-1.6M125.2,267.2L127.5,275.7l0.3,-1.7M135.9,267.8L140.7,275.1l-0.2,-1.7M147.3,268.2L153.3,274.7l-0.5,-1.6M158.9,268.6L165.6,274.3l-0.7,-1.5M170.7,268.7L177.7,274.2l-0.8,-1.5M44.2,279.5L41.2,287.8M54.0,279.3L55.3,288.0M65.1,279.5L68.1,287.8M77.2,279.4L79.9,287.8M89.0,279.5L92.0,287.8M101.9,279.3L103.1,288.0l0.5,-1.6M114.1,279.2L114.7,288.0l0.6,-1.6M125.2,279.4L127.6,287.9l0.3,-1.7M135.9,280.0L140.8,287.3l-0.3,-1.7M147.2,280.5L153.3,286.8l-0.6,-1.6M158.9,280.8L165.6,286.5l-0.7,-1.5M170.7,280.9L177.7,286.3l-0.8,-1.5M43.5,290.7L41.9,299.4l1.0,-1.4M53.5,290.8L55.8,299.3l0.3,-1.7M65.1,290.9L68.1,299.2l0.1,-1.7M77.1,290.9L80.1,299.2l0.1,-1.7M88.9,291.0L92.2,299.1l0.1,-1.7M101.0,290.9L104.0,299.2l0.1,-1.7M114.0,290.7L114.9,299.4l0.6,-1.6M125.2,290.8L127.6,299.3l0.3,-1.7M135.8,291.5L140.9,298.7l-0.3,-1.7M147.2,291.9L153.4,298.2l-0.6,-1.6M158.9,292.2L165.6,297.9l-0.7,-1.5M170.7,292.3L177.7,297.8l-0.8,-1.5M42.7,301.4L42.7,310.2l0.7,-1.5M53.4,301.6L55.9,310.1l0.3,-1.7M65.1,301.7L68.1,310.0l0.1,-1.7M77.1,301.7L80.1,310.0l0.1,-1.7M88.9,301.8L92.2,309.9l0.1,-1.7M101.0,301.7L104.0,310.0l0.1,-1.7M113.1,301.6L115.8,310.0l0.2,-1.7M124.7,301.8L128.0,309.9l0.1,-1.7M135.8,302.3L140.9,309.4l-0.3,-1.7M147.2,302.7L153.4,308.9l-0.6,-1.6M158.9,303.0L165.6,308.7l-0.7,-1.5M170.7,303.1L177.7,308.5l-0.8,-1.5M42.3,311.6L43.1,320.4l0.6,-1.6M53.3,311.8L56.0,320.2l0.2,-1.7M65.0,311.9L68.3,320.1l0.1,-1.7M76.9,311.9L80.2,320.1l0.1,-1.7M88.9,311.9L92.2,320.1l0.1,-1.7M101.0,311.9L104.0,320.2l0.1,-1.7M112.9,311.9L115.9,320.2l0.1,-1.7M124.5,312.1L128.3,320.0l-0.0,-1.7M135.8,312.5L140.9,319.6l-0.3,-1.7M147.2,312.9L153.4,319.1l-0.6,-1.6M158.9,313.2L165.6,318.9l-0.7,-1.5M170.7,313.3L177.7,318.7l-0.8,-1.5M42.3,321.3L43.1,330.1l0.6,-1.6M53.3,321.5L56.0,329.9l0.2,-1.7M65.0,321.6L68.3,329.8l0.1,-1.7M76.9,321.6L80.2,329.8l0.1,-1.7M88.9,321.6L92.2,329.8l0.1,-1.7M101.0,321.6L104.0,329.8l0.1,-1.7M112.9,321.6L115.9,329.8l0.1,-1.7M124.5,321.7L128.3,329.7l-0.0,-1.7M135.8,322.1L140.9,329.3l-0.3,-1.7M147.2,322.6L153.4,328.8l-0.6,-1.6M158.9,322.9L165.6,328.5l-0.7,-1.5M170.7,323.0L177.7,328.4l-0.8,-1.5" stroke="#727272" stroke-width="0.9" fill="none" opacity="0.9"/>
</g></g>
<rect x="42.7" y="195.0" width="131.5" height="130.7" fill="none" stroke="#8a8a8a" stroke-width="1.15"/>
<text x="35.1" y="197.8" text-anchor="end" class="t">500</text>
<text x="35.1" y="232.1" text-anchor="end" class="t">600</text>
<text x="35.1" y="261.2" text-anchor="end" class="t">700</text>
<text x="35.1" y="297.8" text-anchor="end" class="t">850</text>
<text x="35.1" y="308.6" text-anchor="end" class="t">900</text>
<text x="35.1" y="318.8" text-anchor="end" class="t">950</text>
<text x="35.1" y="328.4" text-anchor="end" class="t">1000</text>
<text x="43.0" y="339.9" text-anchor="middle" class="t">114</text>
<text x="66.9" y="339.9" text-anchor="middle" class="t">116</text>
<text x="90.8" y="339.9" text-anchor="middle" class="t">118</text>
<text x="114.7" y="339.9" text-anchor="middle" class="t">120</text>
<text x="138.6" y="339.9" text-anchor="middle" class="t">122</text>
<text x="162.5" y="339.9" text-anchor="middle" class="t">124</text>
<path d="M42.7,195.0h-3.2M42.7,229.4h-3.2M42.7,258.4h-3.2M42.7,295.1h-3.2M42.7,305.8h-3.2M42.7,316.0h-3.2M42.7,325.7h-3.2M42.7,325.7v3.2M42.7,195.0v-2.6M66.6,325.7v3.2M66.6,195.0v-2.6M90.5,325.7v3.2M90.5,195.0v-2.6M114.4,325.7v3.2M114.4,195.0v-2.6M138.3,325.7v3.2M138.3,195.0v-2.6M162.2,325.7v3.2M162.2,195.0v-2.6M54.7,325.7v1.6M78.6,325.7v1.6M102.5,325.7v1.6M126.4,325.7v1.6M150.3,325.7v1.6M174.2,325.7v1.6M174.2,234.4h3.2" stroke="#8a8a8a" stroke-width="0.8" fill="none"/>
<text x="184.8" y="237.2" text-anchor="middle" class="t">4</text>
<text transform="translate(13.5,260.4) rotate(-90)" text-anchor="middle" class="s">Isobaric surface</text>
<text transform="translate(196.0,260.4) rotate(-90)" text-anchor="middle" class="s">Height (km)</text>
<text x="46.6" y="220.0" class="lab" font-size="34.5">c</text>
<rect x="44.70" y="350.4" width="9.21" height="10.1" fill="#ffffff"/>
<rect x="53.86" y="350.4" width="9.21" height="10.1" fill="#d8e2ff"/>
<rect x="63.01" y="350.4" width="9.21" height="10.1" fill="#b9c9fb"/>
<rect x="72.17" y="350.4" width="9.21" height="10.1" fill="#9aadf9"/>
<rect x="81.33" y="350.4" width="9.21" height="10.1" fill="#7e90f4"/>
<rect x="90.49" y="350.4" width="9.21" height="10.1" fill="#4a938a"/>
<rect x="99.64" y="350.4" width="9.21" height="10.1" fill="#6cbd4b"/>
<rect x="108.80" y="350.4" width="9.21" height="10.1" fill="#a5ef50"/>
<rect x="117.96" y="350.4" width="9.21" height="10.1" fill="#fdfb48"/>
<rect x="127.11" y="350.4" width="9.21" height="10.1" fill="#f4c33c"/>
<rect x="136.27" y="350.4" width="9.21" height="10.1" fill="#ee8a24"/>
<rect x="145.43" y="350.4" width="9.21" height="10.1" fill="#e1220f"/>
<rect x="154.59" y="350.4" width="9.21" height="10.1" fill="#de5f9b"/>
<rect x="163.74" y="350.4" width="9.21" height="10.1" fill="#f1d1f6"/>
<path d="M53.86,350.4V360.5M63.01,350.4V360.5M72.17,350.4V360.5M81.33,350.4V360.5M90.49,350.4V360.5M99.64,350.4V360.5M108.80,350.4V360.5M117.96,350.4V360.5M127.11,350.4V360.5M136.27,350.4V360.5M145.43,350.4V360.5M154.59,350.4V360.5M163.74,350.4V360.5" stroke="#8a8a8a" stroke-width="0.5" fill="none" opacity="0.7"/>
<rect x="44.7" y="350.4" width="128.2" height="10.1" fill="none" stroke="#8a8a8a" stroke-width="0.6"/>
<text x="53.9" y="369.0" text-anchor="middle" class="c">2</text>
<text x="63.0" y="369.0" text-anchor="middle" class="c">3</text>
<text x="72.2" y="369.0" text-anchor="middle" class="c">4</text>
<text x="81.3" y="369.0" text-anchor="middle" class="c">5</text>
<text x="90.5" y="369.0" text-anchor="middle" class="c">6</text>
<text x="99.6" y="369.0" text-anchor="middle" class="c">7</text>
<text x="108.8" y="369.0" text-anchor="middle" class="c">8</text>
<text x="118.0" y="369.0" text-anchor="middle" class="c">9</text>
<text x="127.1" y="369.0" text-anchor="middle" class="c">10</text>
<text x="136.3" y="369.0" text-anchor="middle" class="c">11</text>
<text x="145.4" y="369.0" text-anchor="middle" class="c">12</text>
<text x="154.6" y="369.0" text-anchor="middle" class="c">13</text>
<text x="163.7" y="369.0" text-anchor="middle" class="c">14</text>
<clipPath id="cpd"><rect x="236.4" y="195.8" width="130.6" height="130.7"/></clipPath>
<g clip-path="url(#cpd)"><g filter="url(#bl)">
<rect x="233.4" y="192.8" width="136.6" height="136.7" fill="#62a07f"/>
<path d="M333.0,194.0C331.8,196.3 326.8,203.7 325.6,207.6C324.4,211.5 324.8,214.3 325.6,217.7C326.5,221.0 329.2,223.9 330.7,227.7C332.2,231.5 332.9,236.1 334.4,240.3C335.9,244.5 337.2,249.0 339.5,252.8C341.8,256.6 345.2,260.0 348.3,262.9C351.4,265.8 354.9,268.0 358.3,270.4C361.8,272.8 367.2,276.3 369.0,277.5L369.0,193.8Z" fill="#6190cf"/>
<path d="M369.0,224.0C367.4,224.4 362.0,224.6 359.6,226.5C357.2,228.4 355.4,232.2 354.5,235.3C353.6,238.4 353.6,242.0 354.5,245.3C355.4,248.7 357.2,252.8 359.6,255.4C362.0,257.9 367.4,259.7 369.0,260.6Z" fill="#9dc8ee"/>
<path d="M235.0,217.5C235.9,217.9 238.9,218.5 240.7,220.2C242.5,221.9 244.4,224.3 245.7,227.7C247.0,231.0 247.5,236.1 248.3,240.3C249.2,244.5 249.6,249.5 250.8,252.8C252.1,256.1 253.3,258.1 255.8,260.4C258.3,262.7 262.0,265.0 265.8,266.7C269.6,268.4 274.6,269.6 278.4,270.4C282.2,271.2 285.2,271.4 288.5,271.5C291.8,271.6 294.3,271.0 298.0,271.3C301.7,271.6 306.4,272.6 310.6,273.4C314.8,274.2 318.8,274.9 323.0,276.0C327.2,277.1 331.9,278.3 335.7,280.0C339.5,281.7 342.3,284.3 345.7,286.0C349.1,287.7 351.9,288.6 355.8,290.0C359.7,291.4 366.8,293.5 369.0,294.2L369.0,328.5L234.4,328.5Z" fill="#86c050"/>
<path d="M235.0,279.5C236.4,280.4 240.1,283.4 243.2,285.0C246.2,286.6 249.1,287.8 253.3,288.8C257.5,289.8 263.4,290.7 268.4,291.2C273.4,291.7 278.5,291.4 283.4,291.6C288.3,291.8 293.5,292.0 298.0,292.6C302.5,293.2 306.4,294.2 310.6,295.0C314.8,295.8 318.8,296.8 323.0,297.6C327.2,298.4 331.5,298.9 335.7,300.0C339.9,301.1 344.5,302.7 348.3,304.0C352.1,305.3 354.9,306.6 358.3,307.7C361.8,308.8 367.2,310.1 369.0,310.6L369.0,328.5L234.4,328.5Z" fill="#dde062"/>
<path d="M235.0,298.8C237.5,299.2 244.5,300.3 250.0,301.0C255.5,301.7 262.5,302.5 268.0,303.0C273.5,303.5 278.0,303.6 283.0,303.8C288.0,304.0 293.0,304.0 298.0,304.3C303.0,304.6 308.0,304.8 313.0,305.4C318.0,306.0 323.0,306.9 328.0,307.7C333.0,308.5 338.6,309.3 343.2,310.4C347.8,311.4 351.5,312.9 355.8,314.0C360.1,315.1 366.8,316.4 369.0,316.9L369.0,328.5L234.4,328.5Z" fill="#f7c862"/>
<path d="M235.0,304.2C237.5,304.6 244.5,305.7 250.0,306.5C255.5,307.3 262.5,308.2 268.0,308.8C273.5,309.4 278.0,309.5 283.0,309.8C288.0,310.1 292.2,310.1 298.0,310.4C303.8,310.7 311.7,311.1 318.0,311.6C324.3,312.1 329.8,312.5 335.7,313.4C341.6,314.2 347.8,315.7 353.3,316.7C358.9,317.7 366.4,319.0 369.0,319.5L369.0,328.5L234.4,328.5Z" fill="#f2973c"/>
<path d="M235.0,310.2C237.5,310.6 244.5,311.8 250.0,312.5C255.5,313.2 262.5,314.1 268.0,314.6C273.5,315.1 278.0,315.3 283.0,315.5C288.0,315.7 291.3,315.8 298.0,316.0C304.7,316.2 314.6,316.3 323.0,316.9C331.4,317.4 340.6,318.5 348.3,319.3C356.0,320.1 365.6,321.5 369.0,321.9L369.0,328.5L234.4,328.5Z" fill="#e4582c"/>
<path d="M235.0,316.4C237.5,316.7 244.5,317.6 250.0,318.2C255.5,318.8 260.0,319.4 268.0,319.8C276.0,320.2 286.7,320.3 298.0,320.6C309.3,320.9 323.9,320.9 335.7,321.4C347.5,321.9 363.4,323.2 369.0,323.6L369.0,328.5L234.4,328.5Z" fill="#cb2a2a"/>
<path d="M235.0,321.5C239.2,321.7 249.5,322.4 260.0,322.8C270.5,323.2 279.8,323.7 298.0,324.1C316.2,324.6 357.2,325.3 369.0,325.5L369.0,328.5L234.4,328.5Z" fill="#981b20"/>
</g></g>
<rect x="236.4" y="195.8" width="130.6" height="130.7" fill="none" stroke="#6e6e6e" stroke-width="0.9"/>
<text x="228.8" y="198.6" text-anchor="end" class="t">500</text>
<text x="228.8" y="232.9" text-anchor="end" class="t">600</text>
<text x="228.8" y="262.0" text-anchor="end" class="t">700</text>
<text x="228.8" y="298.6" text-anchor="end" class="t">850</text>
<text x="228.8" y="309.4" text-anchor="end" class="t">900</text>
<text x="228.8" y="319.6" text-anchor="end" class="t">950</text>
<text x="228.8" y="329.2" text-anchor="end" class="t">1000</text>
<text x="236.7" y="340.7" text-anchor="middle" class="t">114</text>
<text x="260.4" y="340.7" text-anchor="middle" class="t">116</text>
<text x="284.2" y="340.7" text-anchor="middle" class="t">118</text>
<text x="307.9" y="340.7" text-anchor="middle" class="t">120</text>
<text x="331.7" y="340.7" text-anchor="middle" class="t">122</text>
<text x="355.4" y="340.7" text-anchor="middle" class="t">124</text>
<path d="M236.4,195.8h-3.2M236.4,230.2h-3.2M236.4,259.2h-3.2M236.4,295.9h-3.2M236.4,306.6h-3.2M236.4,316.8h-3.2M236.4,326.5h-3.2M236.4,326.5v3.2M236.4,195.8v-2.6M260.1,326.5v3.2M260.1,195.8v-2.6M283.9,326.5v3.2M283.9,195.8v-2.6M307.6,326.5v3.2M307.6,195.8v-2.6M331.4,326.5v3.2M331.4,195.8v-2.6M355.1,326.5v3.2M355.1,195.8v-2.6M248.3,326.5v1.6M272.0,326.5v1.6M295.8,326.5v1.6M319.5,326.5v1.6M343.3,326.5v1.6M367.0,326.5v1.6M367.0,235.2h3.2" stroke="#6e6e6e" stroke-width="0.8" fill="none"/>
<text x="377.6" y="238.0" text-anchor="middle" class="t">4</text>
<text transform="translate(207.2,261.1) rotate(-90)" text-anchor="middle" class="s">Isobaric surface</text>
<text transform="translate(388.8,261.1) rotate(-90)" text-anchor="middle" class="s">Height (km)</text>
<text x="238.6" y="219.9" class="lab" font-size="24.5">d</text>
<rect x="237.00" y="350.4" width="10.73" height="11.3" fill="#ffffff"/>
<rect x="247.68" y="350.4" width="10.73" height="11.3" fill="#d2e6f8"/>
<rect x="258.37" y="350.4" width="10.73" height="11.3" fill="#9dc8ee"/>
<rect x="269.05" y="350.4" width="10.73" height="11.3" fill="#6190cf"/>
<rect x="279.73" y="350.4" width="10.73" height="11.3" fill="#62a07f"/>
<rect x="290.42" y="350.4" width="10.73" height="11.3" fill="#86c050"/>
<rect x="301.10" y="350.4" width="10.73" height="11.3" fill="#dde062"/>
<rect x="311.78" y="350.4" width="10.73" height="11.3" fill="#f7c862"/>
<rect x="322.47" y="350.4" width="10.73" height="11.3" fill="#f2973c"/>
<rect x="333.15" y="350.4" width="10.73" height="11.3" fill="#e4582c"/>
<rect x="343.83" y="350.4" width="10.73" height="11.3" fill="#cb2a2a"/>
<rect x="354.52" y="350.4" width="10.73" height="11.3" fill="#981b20"/>
<rect x="237.0" y="350.4" width="128.2" height="11.3" fill="none" stroke="#8a8a8a" stroke-width="0.6"/>
<text x="247.7" y="369.2" text-anchor="middle" class="c2">332</text>
<text x="269.1" y="369.2" text-anchor="middle" class="c2">338</text>
<text x="290.4" y="369.2" text-anchor="middle" class="c2">344</text>
<text x="311.8" y="369.2" text-anchor="middle" class="c2">350</text>
<text x="333.1" y="369.2" text-anchor="middle" class="c2">356</text>
<text x="354.5" y="369.2" text-anchor="middle" class="c2">362</text>
<clipPath id="cpe"><rect x="42.2" y="381.5" width="129.2" height="129.7"/></clipPath>
<g clip-path="url(#cpe)"><g filter="url(#bl)">
<rect x="39.2" y="378.5" width="135.2" height="135.7" fill="#ffffff"/>
<path d="M141.5,380.0C143.1,381.5 147.7,386.2 150.8,389.0C153.9,391.8 157.4,394.8 160.0,396.6C162.6,398.4 164.0,398.4 166.2,399.8C168.4,401.2 171.9,404.1 173.0,405.0L173.4,513.2L40.2,513.2L40.2,379.5Z" fill="#d2e6f8"/>
<path d="M141.5,380.0C143.1,381.5 147.7,386.2 150.8,389.0C153.9,391.8 157.4,394.8 160.0,396.6C162.6,398.4 164.0,398.4 166.2,399.8C168.4,401.2 171.9,404.1 173.0,405.0" fill="none" stroke="rgba(255,255,255,0.85)" stroke-width="0.8" />
<path d="M40.0,393.0C43.3,393.1 54.3,393.0 59.6,393.4C64.9,393.8 67.8,394.3 71.9,395.2C76.0,396.1 80.4,397.4 84.2,398.8C88.0,400.2 91.8,402.4 94.8,403.6C97.8,404.9 99.3,405.5 102.0,406.3C104.7,407.1 107.9,407.6 110.8,408.3C113.7,409.0 116.7,409.3 119.6,410.4C122.5,411.4 125.5,412.7 128.4,414.6C131.3,416.5 134.3,419.4 137.2,422.0C140.1,424.6 143.1,427.4 146.0,430.0C148.9,432.6 151.9,434.9 154.8,437.3C157.7,439.7 160.6,442.0 163.6,444.3C166.6,446.6 171.4,450.2 173.0,451.4L173.4,513.2L40.2,513.2Z" fill="#9dc8ee"/>
<path d="M40.0,393.0C43.3,393.1 54.3,393.0 59.6,393.4C64.9,393.8 67.8,394.3 71.9,395.2C76.0,396.1 80.4,397.4 84.2,398.8C88.0,400.2 91.8,402.4 94.8,403.6C97.8,404.9 99.3,405.5 102.0,406.3C104.7,407.1 107.9,407.6 110.8,408.3C113.7,409.0 116.7,409.3 119.6,410.4C122.5,411.4 125.5,412.7 128.4,414.6C131.3,416.5 134.3,419.4 137.2,422.0C140.1,424.6 143.1,427.4 146.0,430.0C148.9,432.6 151.9,434.9 154.8,437.3C157.7,439.7 160.6,442.0 163.6,444.3C166.6,446.6 171.4,450.2 173.0,451.4" fill="none" stroke="rgba(255,255,255,0.85)" stroke-width="0.8" />
<path d="M40.0,410.5C42.1,410.6 48.8,410.4 52.6,411.0C56.4,411.6 59.5,413.1 63.0,414.4C66.5,415.7 70.2,417.5 73.7,418.8C77.2,420.1 80.7,421.1 84.2,422.4C87.7,423.7 91.6,425.3 94.8,426.5C98.0,427.7 100.7,428.6 103.6,429.6C106.5,430.6 109.4,431.8 112.0,432.4C114.6,433.0 116.8,432.8 119.0,433.2C121.2,433.6 122.8,433.9 125.0,435.0C127.2,436.1 129.7,438.0 132.0,439.6C134.3,441.2 136.6,443.0 139.0,444.6C141.4,446.2 144.0,447.7 146.2,449.1C148.4,450.5 149.7,451.5 152.0,452.9C154.3,454.3 156.5,455.3 160.0,457.4C163.5,459.5 170.8,464.1 173.0,465.5L173.4,513.2L40.2,513.2Z" fill="#6190cf"/>
<path d="M40.0,410.5C42.1,410.6 48.8,410.4 52.6,411.0C56.4,411.6 59.5,413.1 63.0,414.4C66.5,415.7 70.2,417.5 73.7,418.8C77.2,420.1 80.7,421.1 84.2,422.4C87.7,423.7 91.6,425.3 94.8,426.5C98.0,427.7 100.7,428.6 103.6,429.6C106.5,430.6 109.4,431.8 112.0,432.4C114.6,433.0 116.8,432.8 119.0,433.2C121.2,433.6 122.8,433.9 125.0,435.0C127.2,436.1 129.7,438.0 132.0,439.6C134.3,441.2 136.6,443.0 139.0,444.6C141.4,446.2 144.0,447.7 146.2,449.1C148.4,450.5 149.7,451.5 152.0,452.9C154.3,454.3 156.5,455.3 160.0,457.4C163.5,459.5 170.8,464.1 173.0,465.5" fill="none" stroke="rgba(255,255,255,0.85)" stroke-width="0.8" />
<path d="M40.0,431.7C41.7,431.7 46.9,431.3 50.3,431.8C53.7,432.3 56.9,433.6 60.3,434.8C63.6,436.0 66.6,437.5 70.4,438.8C74.2,440.1 78.9,441.4 83.0,442.4C87.1,443.4 91.8,444.5 94.8,445.0C97.8,445.5 98.6,445.2 101.0,445.6C103.4,446.0 106.2,447.1 109.0,447.6C111.8,448.1 115.3,448.1 118.0,448.6C120.7,449.1 122.9,449.8 125.2,450.8C127.5,451.9 130.4,453.9 132.0,454.9C133.6,455.9 133.5,456.1 135.0,457.0C136.5,457.9 139.0,459.2 141.0,460.5C143.0,461.8 145.0,463.1 147.0,464.5C149.0,465.9 151.0,467.5 153.0,469.0C155.0,470.5 157.0,472.2 159.0,473.6C161.0,475.0 162.9,476.2 165.2,477.6C167.5,479.1 171.7,481.5 173.0,482.3L173.4,513.2L40.2,513.2Z" fill="#62a07f"/>
<path d="M40.0,431.7C41.7,431.7 46.9,431.3 50.3,431.8C53.7,432.3 56.9,433.6 60.3,434.8C63.6,436.0 66.6,437.5 70.4,438.8C74.2,440.1 78.9,441.4 83.0,442.4C87.1,443.4 91.8,444.5 94.8,445.0C97.8,445.5 98.6,445.2 101.0,445.6C103.4,446.0 106.2,447.1 109.0,447.6C111.8,448.1 115.3,448.1 118.0,448.6C120.7,449.1 122.9,449.8 125.2,450.8C127.5,451.9 130.4,453.9 132.0,454.9C133.6,455.9 133.5,456.1 135.0,457.0C136.5,457.9 139.0,459.2 141.0,460.5C143.0,461.8 145.0,463.1 147.0,464.5C149.0,465.9 151.0,467.5 153.0,469.0C155.0,470.5 157.0,472.2 159.0,473.6C161.0,475.0 162.9,476.2 165.2,477.6C167.5,479.1 171.7,481.5 173.0,482.3" fill="none" stroke="rgba(255,255,255,0.85)" stroke-width="0.8" />
<path d="M40.0,447.8C42.1,448.0 49.3,448.2 52.6,448.9C55.9,449.6 56.8,450.9 60.0,451.8C63.2,452.7 67.5,453.6 72.0,454.3C76.5,455.0 82.2,455.4 87.2,455.8C92.2,456.2 98.2,456.4 102.0,457.0C105.8,457.6 107.2,458.8 110.0,459.6C112.8,460.4 116.3,461.2 119.0,462.0C121.7,462.8 124.0,463.5 126.2,464.5C128.4,465.5 130.0,466.7 132.0,468.0C134.0,469.3 135.7,471.0 138.0,472.5C140.3,474.0 143.5,475.3 146.0,476.8C148.5,478.3 150.9,480.1 153.2,481.6C155.5,483.1 157.9,484.4 160.0,486.0C162.1,487.6 163.8,489.3 166.0,491.0C168.2,492.7 171.8,495.2 173.0,496.0L173.4,513.2L40.2,513.2Z" fill="#86c050"/>
<path d="M40.0,447.8C42.1,448.0 49.3,448.2 52.6,448.9C55.9,449.6 56.8,450.9 60.0,451.8C63.2,452.7 67.5,453.6 72.0,454.3C76.5,455.0 82.2,455.4 87.2,455.8C92.2,456.2 98.2,456.4 102.0,457.0C105.8,457.6 107.2,458.8 110.0,459.6C112.8,460.4 116.3,461.2 119.0,462.0C121.7,462.8 124.0,463.5 126.2,464.5C128.4,465.5 130.0,466.7 132.0,468.0C134.0,469.3 135.7,471.0 138.0,472.5C140.3,474.0 143.5,475.3 146.0,476.8C148.5,478.3 150.9,480.1 153.2,481.6C155.5,483.1 157.9,484.4 160.0,486.0C162.1,487.6 163.8,489.3 166.0,491.0C168.2,492.7 171.8,495.2 173.0,496.0" fill="none" stroke="rgba(255,255,255,0.85)" stroke-width="0.8" />
<path d="M40.0,463.3C42.8,463.3 51.7,463.2 57.0,463.3C62.3,463.4 67.0,463.6 72.0,464.0C77.0,464.4 82.2,465.0 87.2,465.6C92.2,466.2 98.2,466.7 102.0,467.4C105.8,468.1 107.3,468.8 110.0,469.6C112.7,470.4 115.5,471.5 118.0,472.4C120.5,473.3 122.5,474.0 125.2,475.2C127.9,476.4 131.4,477.9 134.0,479.4C136.6,480.9 138.7,482.4 141.0,484.0C143.3,485.6 145.8,487.4 148.0,489.2C150.2,491.0 152.2,492.9 154.2,494.6C156.2,496.3 158.4,497.8 160.0,499.5C161.6,501.2 162.8,502.8 163.5,505.0C164.2,507.2 163.9,511.7 164.0,513.0L40.2,513.2Z" fill="#dde062"/>
<path d="M40.0,463.3C42.8,463.3 51.7,463.2 57.0,463.3C62.3,463.4 67.0,463.6 72.0,464.0C77.0,464.4 82.2,465.0 87.2,465.6C92.2,466.2 98.2,466.7 102.0,467.4C105.8,468.1 107.3,468.8 110.0,469.6C112.7,470.4 115.5,471.5 118.0,472.4C120.5,473.3 122.5,474.0 125.2,475.2C127.9,476.4 131.4,477.9 134.0,479.4C136.6,480.9 138.7,482.4 141.0,484.0C143.3,485.6 145.8,487.4 148.0,489.2C150.2,491.0 152.2,492.9 154.2,494.6C156.2,496.3 158.4,497.8 160.0,499.5C161.6,501.2 162.8,502.8 163.5,505.0C164.2,507.2 163.9,511.7 164.0,513.0" fill="none" stroke="rgba(255,255,255,0.85)" stroke-width="0.8" />
<path d="M40.0,473.0C42.8,472.9 51.7,472.4 57.0,472.4C62.3,472.4 67.0,472.5 72.0,472.8C77.0,473.1 82.5,473.8 87.2,474.3C91.9,474.8 96.5,475.2 100.0,475.8C103.5,476.4 105.3,477.1 108.0,478.0C110.7,478.9 113.7,480.0 116.0,480.9C118.3,481.8 119.7,482.4 122.0,483.3C124.3,484.2 127.3,485.1 130.0,486.5C132.7,487.9 135.5,489.6 138.0,491.5C140.5,493.4 143.2,495.9 145.0,498.2C146.8,500.4 148.2,502.5 149.0,505.0C149.8,507.5 149.8,511.7 150.0,513.0L40.2,513.2Z" fill="#f7c862"/>
<path d="M40.0,473.0C42.8,472.9 51.7,472.4 57.0,472.4C62.3,472.4 67.0,472.5 72.0,472.8C77.0,473.1 82.5,473.8 87.2,474.3C91.9,474.8 96.5,475.2 100.0,475.8C103.5,476.4 105.3,477.1 108.0,478.0C110.7,478.9 113.7,480.0 116.0,480.9C118.3,481.8 119.7,482.4 122.0,483.3C124.3,484.2 127.3,485.1 130.0,486.5C132.7,487.9 135.5,489.6 138.0,491.5C140.5,493.4 143.2,495.9 145.0,498.2C146.8,500.4 148.2,502.5 149.0,505.0C149.8,507.5 149.8,511.7 150.0,513.0" fill="none" stroke="rgba(255,255,255,0.85)" stroke-width="0.8" />
<path d="M40.0,480.3C42.8,480.0 51.7,478.8 57.0,478.4C62.3,478.0 67.0,477.8 72.0,478.0C77.0,478.2 82.9,478.8 87.2,479.4C91.5,480.0 94.7,480.7 98.0,481.5C101.3,482.3 104.3,483.3 107.0,484.0C109.7,484.7 111.8,485.3 114.0,485.8C116.2,486.3 118.0,486.6 120.0,487.0C122.0,487.4 123.8,487.7 126.0,488.5C128.2,489.3 130.8,490.5 133.0,492.0C135.2,493.5 137.4,495.4 139.0,497.4C140.6,499.4 142.0,502.0 142.6,504.0C143.2,506.0 142.9,508.0 142.6,509.5C142.3,511.0 141.3,512.4 141.0,513.0L40.2,513.2Z" fill="#f2973c"/>
<path d="M40.0,480.3C42.8,480.0 51.7,478.8 57.0,478.4C62.3,478.0 67.0,477.8 72.0,478.0C77.0,478.2 82.9,478.8 87.2,479.4C91.5,480.0 94.7,480.7 98.0,481.5C101.3,482.3 104.3,483.3 107.0,484.0C109.7,484.7 111.8,485.3 114.0,485.8C116.2,486.3 118.0,486.6 120.0,487.0C122.0,487.4 123.8,487.7 126.0,488.5C128.2,489.3 130.8,490.5 133.0,492.0C135.2,493.5 137.4,495.4 139.0,497.4C140.6,499.4 142.0,502.0 142.6,504.0C143.2,506.0 142.9,508.0 142.6,509.5C142.3,511.0 141.3,512.4 141.0,513.0" fill="none" stroke="rgba(255,255,255,0.85)" stroke-width="0.8" />
<path d="M40.0,488.6C41.8,488.2 47.4,486.8 51.0,486.0C54.6,485.2 58.1,484.4 61.6,484.0C65.1,483.6 67.7,483.4 72.0,483.4C76.3,483.4 82.2,483.6 87.2,484.2C92.2,484.8 98.1,486.2 102.0,487.0C105.9,487.8 107.9,488.3 110.8,489.2C113.7,490.1 117.3,491.6 119.6,492.5C121.9,493.4 123.1,493.7 124.5,494.5C125.9,495.3 127.0,496.2 128.0,497.5C129.0,498.8 130.2,500.4 130.5,502.0C130.8,503.6 130.8,505.6 130.0,507.0C129.2,508.4 128.0,509.6 126.0,510.3C124.0,511.0 122.0,511.1 118.0,511.3C114.0,511.5 111.7,511.4 102.0,511.3C92.3,511.2 70.3,510.8 60.0,510.6C49.7,510.4 43.3,510.1 40.0,510.0Z" fill="#e4582c"/>
<path d="M40.0,488.6C41.8,488.2 47.4,486.8 51.0,486.0C54.6,485.2 58.1,484.4 61.6,484.0C65.1,483.6 67.7,483.4 72.0,483.4C76.3,483.4 82.2,483.6 87.2,484.2C92.2,484.8 98.1,486.2 102.0,487.0C105.9,487.8 107.9,488.3 110.8,489.2C113.7,490.1 117.3,491.6 119.6,492.5C121.9,493.4 123.1,493.7 124.5,494.5C125.9,495.3 127.0,496.2 128.0,497.5C129.0,498.8 130.2,500.4 130.5,502.0C130.8,503.6 130.8,505.6 130.0,507.0C129.2,508.4 128.0,509.6 126.0,510.3C124.0,511.0 122.0,511.1 118.0,511.3C114.0,511.5 111.7,511.4 102.0,511.3C92.3,511.2 70.3,510.8 60.0,510.6C49.7,510.4 43.3,510.1 40.0,510.0" fill="none" stroke="rgba(255,255,255,0.85)" stroke-width="0.8" />
<path d="M40.0,500.0C41.6,499.3 46.7,497.0 49.5,495.7C52.3,494.4 53.8,493.2 57.0,492.2C60.2,491.2 65.0,490.1 69.0,489.6C73.0,489.2 77.4,489.3 81.2,489.5C85.0,489.7 88.3,490.2 91.8,491.0C95.3,491.8 99.6,493.0 102.0,494.0C104.4,495.0 105.2,495.6 106.4,496.8C107.6,498.0 109.0,499.7 109.0,501.2C109.0,502.7 107.9,504.8 106.4,506.0C104.9,507.2 105.2,507.9 100.0,508.4C94.8,508.9 82.9,509.2 75.4,509.2C68.0,509.2 61.2,508.8 55.3,508.4C49.4,508.0 42.5,507.2 40.0,507.0Z" fill="#cb2a2a"/>
<path d="M40.0,500.0C41.6,499.3 46.7,497.0 49.5,495.7C52.3,494.4 53.8,493.2 57.0,492.2C60.2,491.2 65.0,490.1 69.0,489.6C73.0,489.2 77.4,489.3 81.2,489.5C85.0,489.7 88.3,490.2 91.8,491.0C95.3,491.8 99.6,493.0 102.0,494.0C104.4,495.0 105.2,495.6 106.4,496.8C107.6,498.0 109.0,499.7 109.0,501.2C109.0,502.7 107.9,504.8 106.4,506.0C104.9,507.2 105.2,507.9 100.0,508.4C94.8,508.9 82.9,509.2 75.4,509.2C68.0,509.2 61.2,508.8 55.3,508.4C49.4,508.0 42.5,507.2 40.0,507.0" fill="none" stroke="rgba(255,255,255,0.85)" stroke-width="0.8" />
<path d="M64.3,500.2C64.8,499.0 66.3,496.8 68.4,495.9C70.5,495.0 73.8,494.9 76.7,494.8C79.6,494.7 83.5,494.7 85.7,495.5C88.0,496.3 90.0,498.1 90.2,499.6C90.4,501.1 88.7,503.5 86.7,504.6C84.7,505.7 81.0,506.2 78.2,506.4C75.4,506.6 72.1,506.4 70.0,505.9C67.9,505.4 66.4,504.2 65.4,503.3C64.5,502.4 63.8,501.4 64.3,500.2Z" fill="#981b20"/>
<path d="M64.3,500.2C64.8,499.0 66.3,496.8 68.4,495.9C70.5,495.0 73.8,494.9 76.7,494.8C79.6,494.7 83.5,494.7 85.7,495.5C88.0,496.3 90.0,498.1 90.2,499.6C90.4,501.1 88.7,503.5 86.7,504.6C84.7,505.7 81.0,506.2 78.2,506.4C75.4,506.6 72.1,506.4 70.0,505.9C67.9,505.4 66.4,504.2 65.4,503.3C64.5,502.4 63.8,501.4 64.3,500.2Z" fill="none" stroke="rgba(255,255,255,0.85)" stroke-width="0.8" />
<path d="M42.2,399.3h0.01M48.1,399.3h0.01M53.9,399.3h0.01M59.8,399.3h0.01M65.7,399.3h0.01M71.6,399.3h0.01M77.4,399.3h0.01M83.3,399.3h0.01M89.2,399.3h0.01M95.1,399.3h0.01M100.9,399.3h0.01M106.8,399.3h0.01M112.7,399.3h0.01M118.5,399.3h0.01M124.4,399.3h0.01M130.3,399.3h0.01M136.2,399.3h0.01M142.0,399.3h0.01M147.9,399.3h0.01M153.8,399.3h0.01M159.7,399.3h0.01M165.5,399.3h0.01M171.4,399.3h0.01M42.2,415.6h0.01M48.1,415.6h0.01M53.9,415.6h0.01M59.8,415.6h0.01M65.7,415.6h0.01M71.6,415.6h0.01M77.4,415.6h0.01M83.3,415.6h0.01M89.2,415.6h0.01M95.1,415.6h0.01M100.9,415.6h0.01M106.8,415.6h0.01M112.7,415.6h0.01M118.5,415.6h0.01M124.4,415.6h0.01M130.3,415.6h0.01M136.2,415.6h0.01M142.0,415.6h0.01M147.9,415.6h0.01M153.8,415.6h0.01M159.7,415.6h0.01M165.5,415.6h0.01M171.4,415.6h0.01M42.2,430.6h0.01M48.1,430.6h0.01M53.9,430.6h0.01M59.8,430.6h0.01M65.7,430.6h0.01M71.6,430.6h0.01M77.4,430.6h0.01M83.3,430.6h0.01M89.2,430.6h0.01M95.1,430.6h0.01M100.9,430.6h0.01M106.8,430.6h0.01M112.7,430.6h0.01M118.5,430.6h0.01M124.4,430.6h0.01M130.3,430.6h0.01M136.2,430.6h0.01M142.0,430.6h0.01M147.9,430.6h0.01M153.8,430.6h0.01M159.7,430.6h0.01M165.5,430.6h0.01M171.4,430.6h0.01" stroke="#2c3440" stroke-width="1.35" stroke-linecap="round" fill="none" opacity="0.6"/>
<path d="M41.8,444.8l0.8,-0.7M47.7,444.8l0.8,-0.7M53.6,444.8l0.8,-0.7M59.4,444.8l0.8,-0.7M65.3,444.8l0.8,-0.7M71.2,444.8l0.8,-0.7M77.0,444.8l0.8,-0.7M82.9,444.8l0.8,-0.7M88.8,444.8l0.8,-0.7M94.7,444.8l0.8,-0.7M100.5,444.8l0.8,-0.7M106.4,444.8l0.8,-0.7M112.3,444.8l0.8,-0.7M118.2,444.8l0.8,-0.7M124.0,444.8l0.8,-0.7M129.9,444.8l0.8,-0.7M135.8,444.8l0.8,-0.7M141.6,444.8l0.8,-0.7M147.5,444.8l0.8,-0.7M153.4,444.8l0.8,-0.7M159.3,444.8l0.8,-0.7M165.1,444.8l0.8,-0.7M171.0,444.8l0.8,-0.7M41.6,457.9l1.2,-1.0M47.5,457.9l1.2,-1.0M53.4,457.9l1.2,-1.0M59.2,457.9l1.2,-1.0M65.1,457.9l1.2,-1.0M71.0,457.9l1.2,-1.0M76.9,457.9l1.2,-1.0M82.7,457.9l1.2,-1.0M88.6,457.9l1.2,-1.0M94.5,457.9l1.2,-1.0M100.3,457.9l1.2,-1.0M106.2,457.9l1.2,-1.0M112.1,457.9l1.2,-1.0M118.0,457.9l1.2,-1.0M123.8,457.9l1.2,-1.0M129.7,457.9l1.2,-1.0M135.6,457.9l1.2,-1.0M141.5,457.9l1.2,-1.0M147.3,457.9l1.2,-1.0M153.2,457.9l1.2,-1.0M159.1,457.9l1.2,-1.0M164.9,457.9l1.2,-1.0M170.8,457.9l1.2,-1.0M41.5,464.1l1.4,-1.2M47.4,464.1l1.4,-1.2M53.3,464.1l1.4,-1.2M59.1,464.1l1.4,-1.2M65.0,464.1l1.4,-1.2M70.9,464.1l1.4,-1.2M76.8,464.1l1.4,-1.2M82.6,464.1l1.4,-1.2M88.5,464.1l1.4,-1.2M94.4,464.1l1.4,-1.2M100.2,464.1l1.4,-1.2M106.1,464.1l1.4,-1.2M112.0,464.1l1.4,-1.2M117.9,464.1l1.4,-1.2M123.7,464.1l1.4,-1.2M129.6,464.1l1.4,-1.2M135.5,464.1l1.4,-1.2M141.4,464.1l1.4,-1.2M147.2,464.1l1.4,-1.2M153.1,464.1l1.4,-1.2M159.0,464.1l1.4,-1.2M164.8,464.1l1.4,-1.2M170.7,464.1l1.4,-1.2M41.4,470.1l1.6,-1.3M47.3,470.1l1.6,-1.3M53.2,470.1l1.6,-1.3M59.0,470.1l1.6,-1.3M64.9,470.1l1.6,-1.3M70.8,470.1l1.6,-1.3M76.7,470.1l1.6,-1.3M82.5,470.1l1.6,-1.3M88.4,470.1l1.6,-1.3M94.3,470.1l1.6,-1.3M100.1,470.1l1.6,-1.3M106.0,470.1l1.6,-1.3M111.9,470.1l1.6,-1.3M117.8,470.1l1.6,-1.3M123.6,470.1l1.6,-1.3M129.5,470.1l1.6,-1.3M135.4,470.1l1.6,-1.3M141.3,470.1l1.6,-1.3M147.1,470.1l1.6,-1.3M153.0,470.1l1.6,-1.3M158.9,470.1l1.6,-1.3M164.7,470.1l1.6,-1.3M170.6,470.1l1.6,-1.3M41.3,476.0l1.8,-1.5M47.2,476.0l1.8,-1.5M53.1,476.0l1.8,-1.5M58.9,476.0l1.8,-1.5M64.8,476.0l1.8,-1.5M70.7,476.0l1.8,-1.5M76.6,476.0l1.8,-1.5M82.4,476.0l1.8,-1.5M88.3,476.0l1.8,-1.5M94.2,476.0l1.8,-1.5M100.1,476.0l1.8,-1.5M105.9,476.0l1.8,-1.5M111.8,476.0l1.8,-1.5M117.7,476.0l1.8,-1.5M123.5,476.0l1.8,-1.5M129.4,476.0l1.8,-1.5M135.3,476.0l1.8,-1.5M141.2,476.0l1.8,-1.5M147.0,476.0l1.8,-1.5M152.9,476.0l1.8,-1.5M158.8,476.0l1.8,-1.5M164.7,476.0l1.8,-1.5M170.5,476.0l1.8,-1.5M41.3,481.5l1.8,-1.5M47.2,481.5l1.8,-1.5M53.1,481.5l1.8,-1.5M58.9,481.5l1.8,-1.5M64.8,481.5l1.8,-1.5M70.7,481.5l1.8,-1.5M76.6,481.5l1.8,-1.5M82.4,481.5l1.8,-1.5M88.3,481.5l1.8,-1.5M94.2,481.5l1.8,-1.5M100.1,481.5l1.8,-1.5M105.9,481.5l1.8,-1.5M111.8,481.5l1.8,-1.5M117.7,481.5l1.8,-1.5M123.5,481.5l1.8,-1.5M129.4,481.5l1.8,-1.5M135.3,481.5l1.8,-1.5M141.2,481.5l1.8,-1.5M147.0,481.5l1.8,-1.5M152.9,481.5l1.8,-1.5M158.8,481.5l1.8,-1.5M164.7,481.5l1.8,-1.5M170.5,481.5l1.8,-1.5M41.3,487.0l1.8,-1.5M47.2,487.0l1.8,-1.5M53.1,487.0l1.8,-1.5M58.9,487.0l1.8,-1.5M64.8,487.0l1.8,-1.5M70.7,487.0l1.8,-1.5M76.6,487.0l1.8,-1.5M82.4,487.0l1.8,-1.5M88.3,487.0l1.8,-1.5M94.2,487.0l1.8,-1.5M100.1,487.0l1.8,-1.5M105.9,487.0l1.8,-1.5M111.8,487.0l1.8,-1.5M117.7,487.0l1.8,-1.5M123.5,487.0l1.8,-1.5M129.4,487.0l1.8,-1.5M135.3,487.0l1.8,-1.5M141.2,487.0l1.8,-1.5M147.0,487.0l1.8,-1.5M152.9,487.0l1.8,-1.5M158.8,487.0l1.8,-1.5M164.7,487.0l1.8,-1.5M170.5,487.0l1.8,-1.5M41.3,492.2l1.8,-1.5M47.2,492.2l1.8,-1.5M53.1,492.2l1.8,-1.5M58.9,492.2l1.8,-1.5M64.8,492.2l1.8,-1.5M70.7,492.2l1.8,-1.5M76.6,492.2l1.8,-1.5M82.4,492.2l1.8,-1.5M88.3,492.2l1.8,-1.5M94.2,492.2l1.8,-1.5M100.1,492.2l1.8,-1.5M105.9,492.2l1.8,-1.5M111.8,492.2l1.8,-1.5M117.7,492.2l1.8,-1.5M123.5,492.2l1.8,-1.5M129.4,492.2l1.8,-1.5M135.3,492.2l1.8,-1.5M141.2,492.2l1.8,-1.5M147.0,492.2l1.8,-1.5M152.9,492.2l1.8,-1.5M158.8,492.2l1.8,-1.5M164.7,492.2l1.8,-1.5M170.5,492.2l1.8,-1.5M41.3,497.4l1.8,-1.5M47.2,497.4l1.8,-1.5M53.1,497.4l1.8,-1.5M58.9,497.4l1.8,-1.5M64.8,497.4l1.8,-1.5M70.7,497.4l1.8,-1.5M76.6,497.4l1.8,-1.5M82.4,497.4l1.8,-1.5M88.3,497.4l1.8,-1.5M94.2,497.4l1.8,-1.5M100.1,497.4l1.8,-1.5M105.9,497.4l1.8,-1.5M111.8,497.4l1.8,-1.5M117.7,497.4l1.8,-1.5M123.5,497.4l1.8,-1.5M129.4,497.4l1.8,-1.5M135.3,497.4l1.8,-1.5M141.2,497.4l1.8,-1.5M147.0,497.4l1.8,-1.5M152.9,497.4l1.8,-1.5M41.3,502.4l1.8,-1.5M47.2,502.4l1.8,-1.5M53.1,502.4l1.8,-1.5M58.9,502.4l1.8,-1.5M64.8,502.4l1.8,-1.5M70.7,502.4l1.8,-1.5M76.6,502.4l1.8,-1.5M82.4,502.4l1.8,-1.5M88.3,502.4l1.8,-1.5M94.2,502.4l1.8,-1.5M100.1,502.4l1.8,-1.5M105.9,502.4l1.8,-1.5M111.8,502.4l1.8,-1.5M117.7,502.4l1.8,-1.5M123.5,502.4l1.8,-1.5M129.4,502.4l1.8,-1.5M135.3,502.4l1.8,-1.5M141.2,502.4l1.8,-1.5M147.0,502.4l1.8,-1.5M152.9,502.4l1.8,-1.5M41.3,507.2l1.8,-1.5M47.2,507.2l1.8,-1.5M53.1,507.2l1.8,-1.5M58.9,507.2l1.8,-1.5M64.8,507.2l1.8,-1.5M70.7,507.2l1.8,-1.5M76.6,507.2l1.8,-1.5M82.4,507.2l1.8,-1.5M88.3,507.2l1.8,-1.5M94.2,507.2l1.8,-1.5M100.1,507.2l1.8,-1.5M105.9,507.2l1.8,-1.5M111.8,507.2l1.8,-1.5M117.7,507.2l1.8,-1.5M123.5,507.2l1.8,-1.5M129.4,507.2l1.8,-1.5M135.3,507.2l1.8,-1.5M141.2,507.2l1.8,-1.5M147.0,507.2l1.8,-1.5M152.9,507.2l1.8,-1.5M41.3,511.9l1.8,-1.5M47.2,511.9l1.8,-1.5M53.1,511.9l1.8,-1.5M58.9,511.9l1.8,-1.5M64.8,511.9l1.8,-1.5M70.7,511.9l1.8,-1.5M76.6,511.9l1.8,-1.5M82.4,511.9l1.8,-1.5M88.3,511.9l1.8,-1.5M94.2,511.9l1.8,-1.5M100.1,511.9l1.8,-1.5M105.9,511.9l1.8,-1.5M111.8,511.9l1.8,-1.5M117.7,511.9l1.8,-1.5M123.5,511.9l1.8,-1.5M129.4,511.9l1.8,-1.5M135.3,511.9l1.8,-1.5M141.2,511.9l1.8,-1.5M147.0,511.9l1.8,-1.5M152.9,511.9l1.8,-1.5" stroke="#2a2a2a" stroke-width="0.7" stroke-linecap="round" fill="none" opacity="0.55"/>
<path d="M42.5,444.2h0.01M48.3,444.2h0.01M54.2,444.2h0.01M60.1,444.2h0.01M65.9,444.2h0.01M71.8,444.2h0.01M77.7,444.2h0.01M83.6,444.2h0.01M89.4,444.2h0.01M95.3,444.2h0.01M101.2,444.2h0.01M107.0,444.2h0.01M112.9,444.2h0.01M118.8,444.2h0.01M124.7,444.2h0.01M130.5,444.2h0.01M136.4,444.2h0.01M142.3,444.2h0.01M148.2,444.2h0.01M154.0,444.2h0.01M159.9,444.2h0.01M165.8,444.2h0.01M171.6,444.2h0.01M42.6,457.0h0.01M48.4,457.0h0.01M54.3,457.0h0.01M60.2,457.0h0.01M66.1,457.0h0.01M71.9,457.0h0.01M77.8,457.0h0.01M83.7,457.0h0.01M89.6,457.0h0.01M95.4,457.0h0.01M101.3,457.0h0.01M107.2,457.0h0.01M113.0,457.0h0.01M118.9,457.0h0.01M124.8,457.0h0.01M130.7,457.0h0.01M136.5,457.0h0.01M142.4,457.0h0.01M148.3,457.0h0.01M154.2,457.0h0.01M160.0,457.0h0.01M165.9,457.0h0.01M171.8,457.0h0.01M42.6,463.1h0.01M48.5,463.1h0.01M54.4,463.1h0.01M60.3,463.1h0.01M66.1,463.1h0.01M72.0,463.1h0.01M77.9,463.1h0.01M83.7,463.1h0.01M89.6,463.1h0.01M95.5,463.1h0.01M101.4,463.1h0.01M107.2,463.1h0.01M113.1,463.1h0.01M119.0,463.1h0.01M124.9,463.1h0.01M130.7,463.1h0.01M136.6,463.1h0.01M142.5,463.1h0.01M148.3,463.1h0.01M154.2,463.1h0.01M160.1,463.1h0.01M166.0,463.1h0.01M171.8,463.1h0.01M42.7,469.0h0.01M48.6,469.0h0.01M54.4,469.0h0.01M60.3,469.0h0.01M66.2,469.0h0.01M72.1,469.0h0.01M77.9,469.0h0.01M83.8,469.0h0.01M89.7,469.0h0.01M95.6,469.0h0.01M101.4,469.0h0.01M107.3,469.0h0.01M113.2,469.0h0.01M119.0,469.0h0.01M124.9,469.0h0.01M130.8,469.0h0.01M136.7,469.0h0.01M142.5,469.0h0.01M148.4,469.0h0.01M154.3,469.0h0.01M160.2,469.0h0.01M166.0,469.0h0.01M171.9,469.0h0.01M42.8,474.7h0.01M48.6,474.7h0.01M54.5,474.7h0.01M60.4,474.7h0.01M66.3,474.7h0.01M72.1,474.7h0.01M78.0,474.7h0.01M83.9,474.7h0.01M89.7,474.7h0.01M95.6,474.7h0.01M101.5,474.7h0.01M107.4,474.7h0.01M113.2,474.7h0.01M119.1,474.7h0.01M125.0,474.7h0.01M130.9,474.7h0.01M136.7,474.7h0.01M142.6,474.7h0.01M148.5,474.7h0.01M154.3,474.7h0.01M160.2,474.7h0.01M166.1,474.7h0.01M172.0,474.7h0.01M42.8,480.3h0.01M48.6,480.3h0.01M54.5,480.3h0.01M60.4,480.3h0.01M66.3,480.3h0.01M72.1,480.3h0.01M78.0,480.3h0.01M83.9,480.3h0.01M89.7,480.3h0.01M95.6,480.3h0.01M101.5,480.3h0.01M107.4,480.3h0.01M113.2,480.3h0.01M119.1,480.3h0.01M125.0,480.3h0.01M130.9,480.3h0.01M136.7,480.3h0.01M142.6,480.3h0.01M148.5,480.3h0.01M154.3,480.3h0.01M160.2,480.3h0.01M166.1,480.3h0.01M172.0,480.3h0.01M42.8,485.7h0.01M48.6,485.7h0.01M54.5,485.7h0.01M60.4,485.7h0.01M66.3,485.7h0.01M72.1,485.7h0.01M78.0,485.7h0.01M83.9,485.7h0.01M89.7,485.7h0.01M95.6,485.7h0.01M101.5,485.7h0.01M107.4,485.7h0.01M113.2,485.7h0.01M119.1,485.7h0.01M125.0,485.7h0.01M130.9,485.7h0.01M136.7,485.7h0.01M142.6,485.7h0.01M148.5,485.7h0.01M154.3,485.7h0.01M160.2,485.7h0.01M166.1,485.7h0.01M172.0,485.7h0.01M42.8,491.0h0.01M48.6,491.0h0.01M54.5,491.0h0.01M60.4,491.0h0.01M66.3,491.0h0.01M72.1,491.0h0.01M78.0,491.0h0.01M83.9,491.0h0.01M89.7,491.0h0.01M95.6,491.0h0.01M101.5,491.0h0.01M107.4,491.0h0.01M113.2,491.0h0.01M119.1,491.0h0.01M125.0,491.0h0.01M130.9,491.0h0.01M136.7,491.0h0.01M142.6,491.0h0.01M148.5,491.0h0.01M154.3,491.0h0.01M160.2,491.0h0.01M166.1,491.0h0.01M172.0,491.0h0.01M42.8,496.1h0.01M48.6,496.1h0.01M54.5,496.1h0.01M60.4,496.1h0.01M66.3,496.1h0.01M72.1,496.1h0.01M78.0,496.1h0.01M83.9,496.1h0.01M89.7,496.1h0.01M95.6,496.1h0.01M101.5,496.1h0.01M107.4,496.1h0.01M113.2,496.1h0.01M119.1,496.1h0.01M125.0,496.1h0.01M130.9,496.1h0.01M136.7,496.1h0.01M142.6,496.1h0.01M148.5,496.1h0.01M154.3,496.1h0.01M42.8,501.1h0.01M48.6,501.1h0.01M54.5,501.1h0.01M60.4,501.1h0.01M66.3,501.1h0.01M72.1,501.1h0.01M78.0,501.1h0.01M83.9,501.1h0.01M89.7,501.1h0.01M95.6,501.1h0.01M101.5,501.1h0.01M107.4,501.1h0.01M113.2,501.1h0.01M119.1,501.1h0.01M125.0,501.1h0.01M130.9,501.1h0.01M136.7,501.1h0.01M142.6,501.1h0.01M148.5,501.1h0.01M154.3,501.1h0.01M42.8,506.0h0.01M48.6,506.0h0.01M54.5,506.0h0.01M60.4,506.0h0.01M66.3,506.0h0.01M72.1,506.0h0.01M78.0,506.0h0.01M83.9,506.0h0.01M89.7,506.0h0.01M95.6,506.0h0.01M101.5,506.0h0.01M107.4,506.0h0.01M113.2,506.0h0.01M119.1,506.0h0.01M125.0,506.0h0.01M130.9,506.0h0.01M136.7,506.0h0.01M142.6,506.0h0.01M148.5,506.0h0.01M154.3,506.0h0.01M42.8,510.7h0.01M48.6,510.7h0.01M54.5,510.7h0.01M60.4,510.7h0.01M66.3,510.7h0.01M72.1,510.7h0.01M78.0,510.7h0.01M83.9,510.7h0.01M89.7,510.7h0.01M95.6,510.7h0.01M101.5,510.7h0.01M107.4,510.7h0.01M113.2,510.7h0.01M119.1,510.7h0.01M125.0,510.7h0.01M130.9,510.7h0.01M136.7,510.7h0.01M142.6,510.7h0.01M148.5,510.7h0.01M154.3,510.7h0.01" stroke="#2a2a2a" stroke-width="1.5" stroke-linecap="round" fill="none" opacity="0.58"/>
</g>
<rect x="159.8" y="495.2" width="13" height="18" fill="#fff" stroke="#666" stroke-width="0.5"/>
</g>
<text x="160.9" y="501.3" textLength="9.5" lengthAdjust="spacingAndGlyphs" style="font-family:'Liberation Sans',sans-serif;font-size:6.4px;fill:#222;stroke:#222;stroke-width:0.15">150</text>
<path d="M163.6,505.2h3.6m-1,-0.8l1,0.8l-1,0.8" stroke="#555" stroke-width="0.4" fill="none"/>
<rect x="42.2" y="381.5" width="129.2" height="129.7" fill="none" stroke="#6e6e6e" stroke-width="0.9"/>
<text x="34.6" y="384.2" text-anchor="end" class="t">500</text>
<text x="34.6" y="418.4" text-anchor="end" class="t">600</text>
<text x="34.6" y="447.2" text-anchor="end" class="t">700</text>
<text x="34.6" y="483.5" text-anchor="end" class="t">850</text>
<text x="34.6" y="494.2" text-anchor="end" class="t">900</text>
<text x="34.6" y="504.4" text-anchor="end" class="t">950</text>
<text x="34.6" y="514.0" text-anchor="end" class="t">1000</text>
<text x="42.5" y="525.4" text-anchor="middle" class="t">114</text>
<text x="66.0" y="525.4" text-anchor="middle" class="t">116</text>
<text x="89.5" y="525.4" text-anchor="middle" class="t">118</text>
<text x="113.0" y="525.4" text-anchor="middle" class="t">120</text>
<text x="136.5" y="525.4" text-anchor="middle" class="t">122</text>
<text x="160.0" y="525.4" text-anchor="middle" class="t">124</text>
<path d="M42.2,381.5h-3.2M42.2,415.6h-3.2M42.2,444.5h-3.2M42.2,480.8h-3.2M42.2,491.5h-3.2M42.2,501.6h-3.2M42.2,511.2h-3.2M42.2,511.2v3.2M42.2,381.5v-2.6M65.7,511.2v3.2M65.7,381.5v-2.6M89.2,511.2v3.2M89.2,381.5v-2.6M112.7,511.2v3.2M112.7,381.5v-2.6M136.2,511.2v3.2M136.2,381.5v-2.6M159.7,511.2v3.2M159.7,381.5v-2.6M53.9,511.2v1.6M77.4,511.2v1.6M100.9,511.2v1.6M124.4,511.2v1.6M147.9,511.2v1.6M171.4,511.2v1.6M171.4,420.6h3.2" stroke="#6e6e6e" stroke-width="0.8" fill="none"/>
<text x="182.0" y="423.4" text-anchor="middle" class="t">4</text>
<text transform="translate(13.0,446.4) rotate(-90)" text-anchor="middle" class="s">Isobaric surface</text>
<text transform="translate(193.2,446.4) rotate(-90)" text-anchor="middle" class="s">Height (km)</text>
<text x="46.9" y="404.8" class="lab" font-size="33.5">e</text>
<rect x="21.90" y="531.0" width="14.18" height="5.8" fill="#ffffff"/>
<rect x="36.03" y="531.0" width="14.18" height="5.8" fill="#d2e6f8"/>
<rect x="50.17" y="531.0" width="14.18" height="5.8" fill="#9dc8ee"/>
<rect x="64.30" y="531.0" width="14.18" height="5.8" fill="#6190cf"/>
<rect x="78.43" y="531.0" width="14.18" height="5.8" fill="#62a07f"/>
<rect x="92.57" y="531.0" width="14.18" height="5.8" fill="#86c050"/>
<rect x="106.70" y="531.0" width="14.18" height="5.8" fill="#dde062"/>
<rect x="120.83" y="531.0" width="14.18" height="5.8" fill="#f7c862"/>
<rect x="134.97" y="531.0" width="14.18" height="5.8" fill="#f2973c"/>
<rect x="149.10" y="531.0" width="14.18" height="5.8" fill="#e4582c"/>
<rect x="163.23" y="531.0" width="14.18" height="5.8" fill="#cb2a2a"/>
<rect x="177.37" y="531.0" width="14.18" height="5.8" fill="#981b20"/>
<rect x="21.9" y="531.0" width="169.6" height="5.8" fill="none" stroke="#8a8a8a" stroke-width="0.6"/>
<text x="36.0" y="543.6" text-anchor="middle" class="c2">20</text>
<text x="50.2" y="543.6" text-anchor="middle" class="c2">40</text>
<text x="64.3" y="543.6" text-anchor="middle" class="c2">60</text>
<text x="78.4" y="543.6" text-anchor="middle" class="c2">80</text>
<text x="92.6" y="543.6" text-anchor="middle" class="c2">100</text>
<text x="106.7" y="543.6" text-anchor="middle" class="c2">120</text>
<text x="120.8" y="543.6" text-anchor="middle" class="c2">140</text>
<text x="135.0" y="543.6" text-anchor="middle" class="c2">160</text>
<text x="149.1" y="543.6" text-anchor="middle" class="c2">180</text>
<text x="163.2" y="543.6" text-anchor="middle" class="c2">200</text>
<text x="177.4" y="543.6" text-anchor="middle" class="c2">220</text>
<clipPath id="cpf"><rect x="234.9" y="381.0" width="130.9" height="130.6"/></clipPath>
<g clip-path="url(#cpf)"><g filter="url(#bl)">
<rect x="231.9" y="378.0" width="136.9" height="136.6" fill="#ffffff"/>
<path d="M233.0,397.0C235.6,396.9 243.7,396.8 248.3,396.4C252.9,396.0 256.6,395.4 260.8,394.4C265.0,393.4 269.2,391.3 273.4,390.2C277.6,389.1 281.9,388.0 286.0,387.6C290.1,387.2 294.3,387.2 298.0,387.6C301.7,388.0 304.7,388.8 308.0,390.0C311.3,391.2 314.7,392.9 318.0,395.0C321.3,397.1 324.6,399.8 328.0,402.7C331.4,405.6 334.8,409.1 338.2,412.7C341.6,416.2 344.9,420.9 348.3,424.0C351.7,427.1 355.1,429.9 358.3,431.6C361.5,433.3 366.0,433.9 367.5,434.3L367.8,513.6L232.9,513.6Z" fill="#d2e6f8"/>
<path d="M233.0,397.0C235.6,396.9 243.7,396.8 248.3,396.4C252.9,396.0 256.6,395.4 260.8,394.4C265.0,393.4 269.2,391.3 273.4,390.2C277.6,389.1 281.9,388.0 286.0,387.6C290.1,387.2 294.3,387.2 298.0,387.6C301.7,388.0 304.7,388.8 308.0,390.0C311.3,391.2 314.7,392.9 318.0,395.0C321.3,397.1 324.6,399.8 328.0,402.7C331.4,405.6 334.8,409.1 338.2,412.7C341.6,416.2 344.9,420.9 348.3,424.0C351.7,427.1 355.1,429.9 358.3,431.6C361.5,433.3 366.0,433.9 367.5,434.3" fill="none" stroke="rgba(255,255,255,0.85)" stroke-width="0.8" />
<path d="M233.0,433.0C235.6,433.6 243.7,435.8 248.3,436.6C252.9,437.4 256.6,437.9 260.8,437.6C265.0,437.3 269.2,435.8 273.4,434.6C277.6,433.4 281.9,431.3 286.0,430.6C290.1,429.9 294.3,430.0 298.0,430.4C301.7,430.8 304.7,431.6 308.0,432.8C311.3,434.0 314.7,435.9 318.0,437.8C321.3,439.7 324.6,441.9 328.0,444.0C331.4,446.1 334.8,448.5 338.2,450.4C341.6,452.3 344.9,454.1 348.3,455.4C351.7,456.7 355.1,457.5 358.3,458.2C361.5,458.9 366.0,459.3 367.5,459.5L367.8,513.6L232.9,513.6Z" fill="#9dc8ee"/>
<path d="M233.0,433.0C235.6,433.6 243.7,435.8 248.3,436.6C252.9,437.4 256.6,437.9 260.8,437.6C265.0,437.3 269.2,435.8 273.4,434.6C277.6,433.4 281.9,431.3 286.0,430.6C290.1,429.9 294.3,430.0 298.0,430.4C301.7,430.8 304.7,431.6 308.0,432.8C311.3,434.0 314.7,435.9 318.0,437.8C321.3,439.7 324.6,441.9 328.0,444.0C331.4,446.1 334.8,448.5 338.2,450.4C341.6,452.3 344.9,454.1 348.3,455.4C351.7,456.7 355.1,457.5 358.3,458.2C361.5,458.9 366.0,459.3 367.5,459.5" fill="none" stroke="rgba(255,255,255,0.85)" stroke-width="0.8" />
<path d="M233.0,462.4C235.6,462.8 243.7,464.4 248.3,464.6C252.9,464.8 256.6,464.5 260.8,463.6C265.0,462.7 269.2,460.5 273.4,459.0C277.6,457.5 281.9,455.0 286.0,454.4C290.1,453.8 293.9,454.7 298.0,455.4C302.1,456.1 306.4,457.2 310.6,458.8C314.8,460.4 318.8,462.9 323.0,465.0C327.2,467.1 331.5,469.5 335.7,471.4C339.9,473.3 344.5,475.2 348.3,476.4C352.1,477.6 355.1,478.5 358.3,478.8C361.5,479.1 366.0,478.1 367.5,478.0L367.8,513.6L232.9,513.6Z" fill="#6190cf"/>
<path d="M233.0,462.4C235.6,462.8 243.7,464.4 248.3,464.6C252.9,464.8 256.6,464.5 260.8,463.6C265.0,462.7 269.2,460.5 273.4,459.0C277.6,457.5 281.9,455.0 286.0,454.4C290.1,453.8 293.9,454.7 298.0,455.4C302.1,456.1 306.4,457.2 310.6,458.8C314.8,460.4 318.8,462.9 323.0,465.0C327.2,467.1 331.5,469.5 335.7,471.4C339.9,473.3 344.5,475.2 348.3,476.4C352.1,477.6 355.1,478.5 358.3,478.8C361.5,479.1 366.0,478.1 367.5,478.0" fill="none" stroke="rgba(255,255,255,0.85)" stroke-width="0.8" />
<path d="M233.0,487.7C235.6,487.8 243.7,488.6 248.3,488.2C252.9,487.8 256.6,486.6 260.8,485.2C265.0,483.8 270.2,481.3 273.4,480.0C276.6,478.7 278.1,477.9 280.0,477.3C281.9,476.7 283.3,476.2 285.0,476.1C286.7,476.1 288.3,476.4 290.0,477.0C291.7,477.6 293.3,478.5 295.0,479.6C296.7,480.7 298.3,482.4 300.0,483.6C301.7,484.8 303.3,486.1 305.0,487.0C306.7,487.9 308.0,488.6 310.0,489.0C312.0,489.4 314.5,489.6 317.0,489.7C319.5,489.8 321.9,489.4 325.0,489.4C328.1,489.4 331.8,489.7 335.7,489.9C339.6,490.1 343.0,490.4 348.3,490.5C353.6,490.6 364.3,490.2 367.5,490.2L367.8,513.6L232.9,513.6Z" fill="#62a07f"/>
<path d="M233.0,487.7C235.6,487.8 243.7,488.6 248.3,488.2C252.9,487.8 256.6,486.6 260.8,485.2C265.0,483.8 270.2,481.3 273.4,480.0C276.6,478.7 278.1,477.9 280.0,477.3C281.9,476.7 283.3,476.2 285.0,476.1C286.7,476.1 288.3,476.4 290.0,477.0C291.7,477.6 293.3,478.5 295.0,479.6C296.7,480.7 298.3,482.4 300.0,483.6C301.7,484.8 303.3,486.1 305.0,487.0C306.7,487.9 308.0,488.6 310.0,489.0C312.0,489.4 314.5,489.6 317.0,489.7C319.5,489.8 321.9,489.4 325.0,489.4C328.1,489.4 331.8,489.7 335.7,489.9C339.6,490.1 343.0,490.4 348.3,490.5C353.6,490.6 364.3,490.2 367.5,490.2" fill="none" stroke="rgba(255,255,255,0.85)" stroke-width="0.8" />
<path d="M304,513C305,509.6 310,508.6 315,508.8C320,509 324,510 325,513Z" fill="#6190cf"/>
<path d="M234.9,399.0h0.01M240.8,399.0h0.01M246.8,399.0h0.01M252.8,399.0h0.01M258.7,399.0h0.01M264.6,399.0h0.01M270.6,399.0h0.01M276.6,399.0h0.01M282.5,399.0h0.01M288.4,399.0h0.01M294.4,399.0h0.01M300.4,399.0h0.01M306.3,399.0h0.01M312.2,399.0h0.01M318.2,399.0h0.01M324.1,399.0h0.01M330.1,399.0h0.01M336.1,399.0h0.01M342.0,399.0h0.01M347.9,399.0h0.01M353.9,399.0h0.01M359.9,399.0h0.01M365.8,399.0h0.01M234.9,415.4h0.01M240.8,415.4h0.01M246.8,415.4h0.01M252.8,415.4h0.01M258.7,415.4h0.01M264.6,415.4h0.01M270.6,415.4h0.01M276.6,415.4h0.01M282.5,415.4h0.01M288.4,415.4h0.01M294.4,415.4h0.01M300.4,415.4h0.01M306.3,415.4h0.01M312.2,415.4h0.01M318.2,415.4h0.01M324.1,415.4h0.01M330.1,415.4h0.01M336.1,415.4h0.01M342.0,415.4h0.01M347.9,415.4h0.01M353.9,415.4h0.01M359.9,415.4h0.01M365.8,415.4h0.01M234.9,430.4h0.01M240.8,430.4h0.01M246.8,430.4h0.01M252.8,430.4h0.01M258.7,430.4h0.01M264.6,430.4h0.01M270.6,430.4h0.01M276.6,430.4h0.01M282.5,430.4h0.01M288.4,430.4h0.01M294.4,430.4h0.01M300.4,430.4h0.01M306.3,430.4h0.01M312.2,430.4h0.01M318.2,430.4h0.01M324.1,430.4h0.01M330.1,430.4h0.01M336.1,430.4h0.01M342.0,430.4h0.01M347.9,430.4h0.01M353.9,430.4h0.01M359.9,430.4h0.01M365.8,430.4h0.01M234.9,444.4h0.01M240.8,444.4h0.01M246.8,444.4h0.01M252.8,444.4h0.01M258.7,444.4h0.01M264.6,444.4h0.01M270.6,444.4h0.01M276.6,444.4h0.01M282.5,444.4h0.01M288.4,444.4h0.01M294.4,444.4h0.01M300.4,444.4h0.01M306.3,444.4h0.01M312.2,444.4h0.01M318.2,444.4h0.01M324.1,444.4h0.01M330.1,444.4h0.01M336.1,444.4h0.01M342.0,444.4h0.01M347.9,444.4h0.01M353.9,444.4h0.01M359.9,444.4h0.01M365.8,444.4h0.01M234.9,457.4h0.01M240.8,457.4h0.01M246.8,457.4h0.01M252.8,457.4h0.01M258.7,457.4h0.01M264.6,457.4h0.01M270.6,457.4h0.01M276.6,457.4h0.01M282.5,457.4h0.01M288.4,457.4h0.01M294.4,457.4h0.01M300.4,457.4h0.01M306.3,457.4h0.01M312.2,457.4h0.01M318.2,457.4h0.01M324.1,457.4h0.01M330.1,457.4h0.01M336.1,457.4h0.01M342.0,457.4h0.01M347.9,457.4h0.01M353.9,457.4h0.01M359.9,457.4h0.01M365.8,457.4h0.01M234.9,463.6h0.01M240.8,463.6h0.01M246.8,463.6h0.01M252.8,463.6h0.01M258.7,463.6h0.01M264.6,463.6h0.01M270.6,463.6h0.01M276.6,463.6h0.01M282.5,463.6h0.01M288.4,463.6h0.01M294.4,463.6h0.01M300.4,463.6h0.01M306.3,463.6h0.01M312.2,463.6h0.01M318.2,463.6h0.01M324.1,463.6h0.01M330.1,463.6h0.01M336.1,463.6h0.01M342.0,463.6h0.01M347.9,463.6h0.01M353.9,463.6h0.01M359.9,463.6h0.01M365.8,463.6h0.01" stroke="#2c3440" stroke-width="1.35" stroke-linecap="round" fill="none" opacity="0.6"/>
<path d="M234.6,469.8l0.6,-0.5M240.5,469.8l0.6,-0.5M246.5,469.8l0.6,-0.5M252.4,469.8l0.6,-0.5M258.4,469.8l0.6,-0.5M264.3,469.8l0.6,-0.5M270.3,469.8l0.6,-0.5M276.2,469.8l0.6,-0.5M282.2,469.8l0.6,-0.5M288.1,469.8l0.6,-0.5M294.1,469.8l0.6,-0.5M300.0,469.8l0.6,-0.5M306.0,469.8l0.6,-0.5M311.9,469.8l0.6,-0.5M317.9,469.8l0.6,-0.5M323.8,469.8l0.6,-0.5M329.8,469.8l0.6,-0.5M335.7,469.8l0.6,-0.5M341.7,469.8l0.6,-0.5M347.6,469.8l0.6,-0.5M353.6,469.8l0.6,-0.5M359.5,469.8l0.6,-0.5M365.5,469.8l0.6,-0.5M234.6,475.6l0.6,-0.5M240.5,475.6l0.6,-0.5M246.5,475.6l0.6,-0.5M252.4,475.6l0.6,-0.5M258.4,475.6l0.6,-0.5M264.3,475.6l0.6,-0.5M270.3,475.6l0.6,-0.5M276.2,475.6l0.6,-0.5M282.2,475.6l0.6,-0.5M288.1,475.6l0.6,-0.5M294.1,475.6l0.6,-0.5M300.0,475.6l0.6,-0.5M306.0,475.6l0.6,-0.5M311.9,475.6l0.6,-0.5M317.9,475.6l0.6,-0.5M323.8,475.6l0.6,-0.5M329.8,475.6l0.6,-0.5M335.7,475.6l0.6,-0.5M341.7,475.6l0.6,-0.5M347.6,475.6l0.6,-0.5M353.6,475.6l0.6,-0.5M359.5,475.6l0.6,-0.5M365.5,475.6l0.6,-0.5M234.6,481.2l0.6,-0.5M240.5,481.2l0.6,-0.5M246.5,481.2l0.6,-0.5M252.4,481.2l0.6,-0.5M258.4,481.2l0.6,-0.5M264.3,481.2l0.6,-0.5M270.3,481.2l0.6,-0.5M276.2,481.2l0.6,-0.5M282.2,481.2l0.6,-0.5M288.1,481.2l0.6,-0.5M294.1,481.2l0.6,-0.5M300.0,481.2l0.6,-0.5M306.0,481.2l0.6,-0.5M311.9,481.2l0.6,-0.5M317.9,481.2l0.6,-0.5M323.8,481.2l0.6,-0.5M329.8,481.2l0.6,-0.5M335.7,481.2l0.6,-0.5M341.7,481.2l0.6,-0.5M347.6,481.2l0.6,-0.5M353.6,481.2l0.6,-0.5M359.5,481.2l0.6,-0.5M365.5,481.2l0.6,-0.5M234.6,486.7l0.6,-0.5M240.5,486.7l0.6,-0.5M246.5,486.7l0.6,-0.5M252.4,486.7l0.6,-0.5M258.4,486.7l0.6,-0.5M264.3,486.7l0.6,-0.5M270.3,486.7l0.6,-0.5M276.2,486.7l0.6,-0.5M282.2,486.7l0.6,-0.5M288.1,486.7l0.6,-0.5M294.1,486.7l0.6,-0.5M300.0,486.7l0.6,-0.5M306.0,486.7l0.6,-0.5M311.9,486.7l0.6,-0.5M317.9,486.7l0.6,-0.5M323.8,486.7l0.6,-0.5M329.8,486.7l0.6,-0.5M335.7,486.7l0.6,-0.5M341.7,486.7l0.6,-0.5M347.6,486.7l0.6,-0.5M353.6,486.7l0.6,-0.5M359.5,486.7l0.6,-0.5M365.5,486.7l0.6,-0.5M234.6,492.0l0.6,-0.5M240.5,492.0l0.6,-0.5M246.5,492.0l0.6,-0.5M252.4,492.0l0.6,-0.5M258.4,492.0l0.6,-0.5M264.3,492.0l0.6,-0.5M270.3,492.0l0.6,-0.5M276.2,492.0l0.6,-0.5M282.2,492.0l0.6,-0.5M288.1,492.0l0.6,-0.5M294.1,492.0l0.6,-0.5M300.0,492.0l0.6,-0.5M306.0,492.0l0.6,-0.5M311.9,492.0l0.6,-0.5M317.9,492.0l0.6,-0.5M323.8,492.0l0.6,-0.5M329.8,492.0l0.6,-0.5M335.7,492.0l0.6,-0.5M341.7,492.0l0.6,-0.5M347.6,492.0l0.6,-0.5M353.6,492.0l0.6,-0.5M359.5,492.0l0.6,-0.5M365.5,492.0l0.6,-0.5M234.6,497.2l0.6,-0.5M240.5,497.2l0.6,-0.5M246.5,497.2l0.6,-0.5M252.4,497.2l0.6,-0.5M258.4,497.2l0.6,-0.5M264.3,497.2l0.6,-0.5M270.3,497.2l0.6,-0.5M276.2,497.2l0.6,-0.5M282.2,497.2l0.6,-0.5M288.1,497.2l0.6,-0.5M294.1,497.2l0.6,-0.5M300.0,497.2l0.6,-0.5M306.0,497.2l0.6,-0.5M311.9,497.2l0.6,-0.5M317.9,497.2l0.6,-0.5M323.8,497.2l0.6,-0.5M329.8,497.2l0.6,-0.5M335.7,497.2l0.6,-0.5M341.7,497.2l0.6,-0.5M347.6,497.2l0.6,-0.5M234.6,502.2l0.6,-0.5M240.5,502.2l0.6,-0.5M246.5,502.2l0.6,-0.5M252.4,502.2l0.6,-0.5M258.4,502.2l0.6,-0.5M264.3,502.2l0.6,-0.5M270.3,502.2l0.6,-0.5M276.2,502.2l0.6,-0.5M282.2,502.2l0.6,-0.5M288.1,502.2l0.6,-0.5M294.1,502.2l0.6,-0.5M300.0,502.2l0.6,-0.5M306.0,502.2l0.6,-0.5M311.9,502.2l0.6,-0.5M317.9,502.2l0.6,-0.5M323.8,502.2l0.6,-0.5M329.8,502.2l0.6,-0.5M335.7,502.2l0.6,-0.5M341.7,502.2l0.6,-0.5M347.6,502.2l0.6,-0.5M234.6,507.1l0.6,-0.5M240.5,507.1l0.6,-0.5M246.5,507.1l0.6,-0.5M252.4,507.1l0.6,-0.5M258.4,507.1l0.6,-0.5M264.3,507.1l0.6,-0.5M270.3,507.1l0.6,-0.5M276.2,507.1l0.6,-0.5M282.2,507.1l0.6,-0.5M288.1,507.1l0.6,-0.5M294.1,507.1l0.6,-0.5M300.0,507.1l0.6,-0.5M306.0,507.1l0.6,-0.5M311.9,507.1l0.6,-0.5M317.9,507.1l0.6,-0.5M323.8,507.1l0.6,-0.5M329.8,507.1l0.6,-0.5M335.7,507.1l0.6,-0.5M341.7,507.1l0.6,-0.5M347.6,507.1l0.6,-0.5M234.6,511.9l0.6,-0.5M240.5,511.9l0.6,-0.5M246.5,511.9l0.6,-0.5M252.4,511.9l0.6,-0.5M258.4,511.9l0.6,-0.5M264.3,511.9l0.6,-0.5M270.3,511.9l0.6,-0.5M276.2,511.9l0.6,-0.5M282.2,511.9l0.6,-0.5M288.1,511.9l0.6,-0.5M294.1,511.9l0.6,-0.5M300.0,511.9l0.6,-0.5M306.0,511.9l0.6,-0.5M311.9,511.9l0.6,-0.5M317.9,511.9l0.6,-0.5M323.8,511.9l0.6,-0.5M329.8,511.9l0.6,-0.5M335.7,511.9l0.6,-0.5M341.7,511.9l0.6,-0.5M347.6,511.9l0.6,-0.5" stroke="#2a2a2a" stroke-width="0.7" stroke-linecap="round" fill="none" opacity="0.55"/>
<path d="M235.1,469.4h0.01M241.1,469.4h0.01M247.0,469.4h0.01M253.0,469.4h0.01M258.9,469.4h0.01M264.9,469.4h0.01M270.8,469.4h0.01M276.8,469.4h0.01M282.7,469.4h0.01M288.7,469.4h0.01M294.6,469.4h0.01M300.6,469.4h0.01M306.5,469.4h0.01M312.5,469.4h0.01M318.4,469.4h0.01M324.4,469.4h0.01M330.3,469.4h0.01M336.3,469.4h0.01M342.2,469.4h0.01M348.2,469.4h0.01M354.1,469.4h0.01M360.1,469.4h0.01M366.0,469.4h0.01M235.1,475.2h0.01M241.1,475.2h0.01M247.0,475.2h0.01M253.0,475.2h0.01M258.9,475.2h0.01M264.9,475.2h0.01M270.8,475.2h0.01M276.8,475.2h0.01M282.7,475.2h0.01M288.7,475.2h0.01M294.6,475.2h0.01M300.6,475.2h0.01M306.5,475.2h0.01M312.5,475.2h0.01M318.4,475.2h0.01M324.4,475.2h0.01M330.3,475.2h0.01M336.3,475.2h0.01M342.2,475.2h0.01M348.2,475.2h0.01M354.1,475.2h0.01M360.1,475.2h0.01M366.0,475.2h0.01M235.1,480.8h0.01M241.1,480.8h0.01M247.0,480.8h0.01M253.0,480.8h0.01M258.9,480.8h0.01M264.9,480.8h0.01M270.8,480.8h0.01M276.8,480.8h0.01M282.7,480.8h0.01M288.7,480.8h0.01M294.6,480.8h0.01M300.6,480.8h0.01M306.5,480.8h0.01M312.5,480.8h0.01M318.4,480.8h0.01M324.4,480.8h0.01M330.3,480.8h0.01M336.3,480.8h0.01M342.2,480.8h0.01M348.2,480.8h0.01M354.1,480.8h0.01M360.1,480.8h0.01M366.0,480.8h0.01M235.1,486.3h0.01M241.1,486.3h0.01M247.0,486.3h0.01M253.0,486.3h0.01M258.9,486.3h0.01M264.9,486.3h0.01M270.8,486.3h0.01M276.8,486.3h0.01M282.7,486.3h0.01M288.7,486.3h0.01M294.6,486.3h0.01M300.6,486.3h0.01M306.5,486.3h0.01M312.5,486.3h0.01M318.4,486.3h0.01M324.4,486.3h0.01M330.3,486.3h0.01M336.3,486.3h0.01M342.2,486.3h0.01M348.2,486.3h0.01M354.1,486.3h0.01M360.1,486.3h0.01M366.0,486.3h0.01M235.1,491.6h0.01M241.1,491.6h0.01M247.0,491.6h0.01M253.0,491.6h0.01M258.9,491.6h0.01M264.9,491.6h0.01M270.8,491.6h0.01M276.8,491.6h0.01M282.7,491.6h0.01M288.7,491.6h0.01M294.6,491.6h0.01M300.6,491.6h0.01M306.5,491.6h0.01M312.5,491.6h0.01M318.4,491.6h0.01M324.4,491.6h0.01M330.3,491.6h0.01M336.3,491.6h0.01M342.2,491.6h0.01M348.2,491.6h0.01M354.1,491.6h0.01M360.1,491.6h0.01M366.0,491.6h0.01M235.1,496.7h0.01M241.1,496.7h0.01M247.0,496.7h0.01M253.0,496.7h0.01M258.9,496.7h0.01M264.9,496.7h0.01M270.8,496.7h0.01M276.8,496.7h0.01M282.7,496.7h0.01M288.7,496.7h0.01M294.6,496.7h0.01M300.6,496.7h0.01M306.5,496.7h0.01M312.5,496.7h0.01M318.4,496.7h0.01M324.4,496.7h0.01M330.3,496.7h0.01M336.3,496.7h0.01M342.2,496.7h0.01M348.2,496.7h0.01M235.1,501.8h0.01M241.1,501.8h0.01M247.0,501.8h0.01M253.0,501.8h0.01M258.9,501.8h0.01M264.9,501.8h0.01M270.8,501.8h0.01M276.8,501.8h0.01M282.7,501.8h0.01M288.7,501.8h0.01M294.6,501.8h0.01M300.6,501.8h0.01M306.5,501.8h0.01M312.5,501.8h0.01M318.4,501.8h0.01M324.4,501.8h0.01M330.3,501.8h0.01M336.3,501.8h0.01M342.2,501.8h0.01M348.2,501.8h0.01M235.1,506.6h0.01M241.1,506.6h0.01M247.0,506.6h0.01M253.0,506.6h0.01M258.9,506.6h0.01M264.9,506.6h0.01M270.8,506.6h0.01M276.8,506.6h0.01M282.7,506.6h0.01M288.7,506.6h0.01M294.6,506.6h0.01M300.6,506.6h0.01M306.5,506.6h0.01M312.5,506.6h0.01M318.4,506.6h0.01M324.4,506.6h0.01M330.3,506.6h0.01M336.3,506.6h0.01M342.2,506.6h0.01M348.2,506.6h0.01M235.1,511.4h0.01M241.1,511.4h0.01M247.0,511.4h0.01M253.0,511.4h0.01M258.9,511.4h0.01M264.9,511.4h0.01M270.8,511.4h0.01M276.8,511.4h0.01M282.7,511.4h0.01M288.7,511.4h0.01M294.6,511.4h0.01M300.6,511.4h0.01M306.5,511.4h0.01M312.5,511.4h0.01M318.4,511.4h0.01M324.4,511.4h0.01M330.3,511.4h0.01M336.3,511.4h0.01M342.2,511.4h0.01M348.2,511.4h0.01" stroke="#2a2a2a" stroke-width="1.5" stroke-linecap="round" fill="none" opacity="0.58"/>
</g>
<rect x="353.8" y="495.7" width="14" height="18" fill="#fff" stroke="#666" stroke-width="0.5"/>
</g>
<text x="354.9" y="502.2" textLength="9.5" lengthAdjust="spacingAndGlyphs" style="font-family:'Liberation Sans',sans-serif;font-size:6.4px;fill:#222;stroke:#222;stroke-width:0.15">150</text>
<path d="M357.8,505.8h3.6m-1,-0.8l1,0.8l-1,0.8" stroke="#555" stroke-width="0.4" fill="none"/>
<rect x="234.9" y="381.0" width="130.9" height="130.6" fill="none" stroke="#6e6e6e" stroke-width="0.9"/>
<text x="227.3" y="383.8" text-anchor="end" class="t">500</text>
<text x="227.3" y="418.1" text-anchor="end" class="t">600</text>
<text x="227.3" y="447.1" text-anchor="end" class="t">700</text>
<text x="227.3" y="483.7" text-anchor="end" class="t">850</text>
<text x="227.3" y="494.5" text-anchor="end" class="t">900</text>
<text x="227.3" y="504.7" text-anchor="end" class="t">950</text>
<text x="227.3" y="514.4" text-anchor="end" class="t">1000</text>
<text x="235.2" y="525.8" text-anchor="middle" class="t">114</text>
<text x="259.0" y="525.8" text-anchor="middle" class="t">116</text>
<text x="282.8" y="525.8" text-anchor="middle" class="t">118</text>
<text x="306.6" y="525.8" text-anchor="middle" class="t">120</text>
<text x="330.4" y="525.8" text-anchor="middle" class="t">122</text>
<text x="354.2" y="525.8" text-anchor="middle" class="t">124</text>
<path d="M234.9,381.0h-3.2M234.9,415.4h-3.2M234.9,444.4h-3.2M234.9,481.0h-3.2M234.9,491.7h-3.2M234.9,501.9h-3.2M234.9,511.6h-3.2M234.9,511.6v3.2M234.9,381.0v-2.6M258.7,511.6v3.2M258.7,381.0v-2.6M282.5,511.6v3.2M282.5,381.0v-2.6M306.3,511.6v3.2M306.3,381.0v-2.6M330.1,511.6v3.2M330.1,381.0v-2.6M353.9,511.6v3.2M353.9,381.0v-2.6M246.8,511.6v1.6M270.6,511.6v1.6M294.4,511.6v1.6M318.2,511.6v1.6M342.0,511.6v1.6M365.8,511.6v1.6M365.8,420.4h3.2" stroke="#6e6e6e" stroke-width="0.8" fill="none"/>
<text x="376.4" y="423.2" text-anchor="middle" class="t">4</text>
<text transform="translate(205.7,446.3) rotate(-90)" text-anchor="middle" class="s">Isobaric surface</text>
<text transform="translate(387.6,446.3) rotate(-90)" text-anchor="middle" class="s">Height (km)</text>
<text x="239.4" y="405.6" class="lab" font-size="25.5">f</text>
<rect x="213.90" y="531.7" width="14.38" height="6.3" fill="#ffffff"/>
<rect x="228.23" y="531.7" width="14.38" height="6.3" fill="#d2e6f8"/>
<rect x="242.57" y="531.7" width="14.38" height="6.3" fill="#9dc8ee"/>
<rect x="256.90" y="531.7" width="14.38" height="6.3" fill="#6190cf"/>
<rect x="271.23" y="531.7" width="14.38" height="6.3" fill="#62a07f"/>
<rect x="285.57" y="531.7" width="14.38" height="6.3" fill="#86c050"/>
<rect x="299.90" y="531.7" width="14.38" height="6.3" fill="#dde062"/>
<rect x="314.23" y="531.7" width="14.38" height="6.3" fill="#f7c862"/>
<rect x="328.57" y="531.7" width="14.38" height="6.3" fill="#f2973c"/>
<rect x="342.90" y="531.7" width="14.38" height="6.3" fill="#e4582c"/>
<rect x="357.23" y="531.7" width="14.38" height="6.3" fill="#cb2a2a"/>
<rect x="371.57" y="531.7" width="14.38" height="6.3" fill="#981b20"/>
<rect x="213.9" y="531.7" width="172.0" height="6.3" fill="none" stroke="#8a8a8a" stroke-width="0.6"/>
<text x="228.2" y="545.0" text-anchor="middle" class="c2">20</text>
<text x="242.6" y="545.0" text-anchor="middle" class="c2">40</text>
<text x="256.9" y="545.0" text-anchor="middle" class="c2">60</text>
<text x="271.2" y="545.0" text-anchor="middle" class="c2">80</text>
<text x="285.6" y="545.0" text-anchor="middle" class="c2">100</text>
<text x="299.9" y="545.0" text-anchor="middle" class="c2">120</text>
<text x="314.2" y="545.0" text-anchor="middle" class="c2">140</text>
<text x="328.6" y="545.0" text-anchor="middle" class="c2">160</text>
<text x="342.9" y="545.0" text-anchor="middle" class="c2">180</text>
<text x="357.2" y="545.0" text-anchor="middle" class="c2">200</text>
<text x="371.6" y="545.0" text-anchor="middle" class="c2">220</text>
</svg>
</body></html>
